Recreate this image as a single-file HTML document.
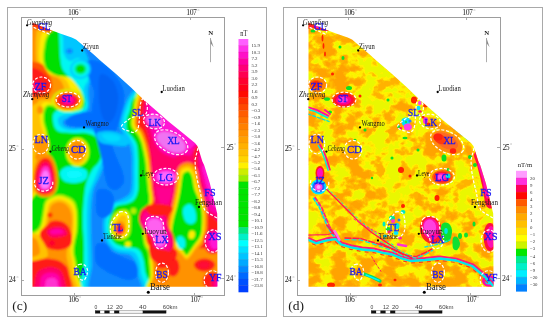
<!DOCTYPE html>
<html><head><meta charset="utf-8"><title>Magnetic anomaly maps</title>
<style>
html,body{margin:0;padding:0;background:#fff;}
body{width:550px;height:323px;overflow:hidden;}
svg{display:block;}
text{font-family:"Liberation Serif","DejaVu Serif",serif;}
.s{font-family:"Liberation Sans","DejaVu Sans",sans-serif;}
</style></head><body>
<svg width="550" height="323" viewBox="0 0 550 323">
<defs>
<clipPath id="mc"><path d="M32.5,22.8 53.3,31 60.8,33.7 71.7,37.5 76,39.6 82.5,45 93.4,54.3 100,60.2 115.5,73.6 131,87.5 145,101 154.3,108.9 168.2,121.3 183.7,133.7 195,143 197.4,145.9 198.8,150 202.3,161.2 204.3,165.5 209.9,183.6 214.5,202.2 217.2,213.4 217.5,286.8 32.5,286.8Z"/></clipPath>
<clipPath id="mc2"><path d="M308.5,22.8 329.3,31 336.8,33.7 347.7,37.5 352,39.6 358.5,45 369.4,54.3 376,60.2 391.5,73.6 407,87.5 421,101 430.3,108.9 444.2,121.3 459.7,133.7 471,143 473.4,145.9 474.8,150 478.3,161.2 480.3,165.5 485.9,183.6 490.5,202.2 493.2,213.4 493.5,286.8 308.5,286.8Z"/></clipPath>
<filter id="bl" x="-5%" y="-5%" width="110%" height="110%"><feGaussianBlur stdDeviation="1.0"/></filter>
<filter id="tx" filterUnits="userSpaceOnUse" x="300" y="15" width="225" height="280" color-interpolation-filters="sRGB">
<feTurbulence type="fractalNoise" baseFrequency="0.075 0.09" numOctaves="3" seed="11" result="n"/>
<feColorMatrix in="n" type="matrix" values="3 0 0 0 -1  3 0 0 0 -1  3 0 0 0 -1  0 0 0 0 1" result="ng"/>
<feGaussianBlur in="SourceGraphic" stdDeviation="4" result="bias"/>
<feComposite in="ng" in2="bias" operator="arithmetic" k1="0" k2="1" k3="1" k4="-0.5" result="sum"/>
<feComponentTransfer in="sum">
<feFuncR type="discrete" tableValues="1 1 1 1 1 1 1 1 0.97 0.92"/>
<feFuncG type="discrete" tableValues="0.64 0.67 0.7 0.73 0.78 0.86 0.92 0.95 0.96 0.97"/>
<feFuncB type="linear" slope="0" intercept="0"/>
<feFuncA type="linear" slope="0" intercept="1"/>
</feComponentTransfer>
<feGaussianBlur stdDeviation="0.45"/>
</filter>
<filter id="bl2" x="-5%" y="-5%" width="110%" height="110%"><feGaussianBlur stdDeviation="0.6"/></filter>
</defs>
<rect width="550" height="323" fill="#fff"/>
<g clip-path="url(#mc)"><g filter="url(#bl)"><rect x="20" y="15" width="210" height="280" fill="#00e000"/><path d="M57,18C55.2,20.5 58.6,28.5 59,33C59.4,37.5 59.3,41.2 59.5,45C59.7,48.8 59.6,52.2 60,56C60.4,59.8 60.8,64.8 62,68C63.2,71.2 65.5,73.2 67,75C68.5,76.8 69.7,77.5 71,79C72.3,80.5 73.7,82.2 75,84C76.3,85.8 77.7,88.2 79,90C80.3,91.8 82,93.2 83,95C84,96.8 84.8,99 85,101C85.2,103 84.8,105.5 84,107C83.2,108.5 82.3,109.3 80,110C77.7,110.7 73.3,111 70,111C66.7,111 62.7,109.7 60,110C57.3,110.3 55.2,111.3 54,113C52.8,114.7 52.8,117.5 53,120C53.2,122.5 53.8,126 55,128C56.2,130 57.2,131.2 60,132C62.8,132.8 67.7,132.8 72,133C76.3,133.2 82,132.3 86,133C90,133.7 93.5,135.2 96,137C98.5,138.8 100,141.5 101,144C102,146.5 102.3,149 102,152C101.7,155 100.7,159 99,162C97.3,165 94.2,166.3 92,170C89.8,173.7 87.3,179.3 86,184C84.7,188.7 84.5,193.3 84,198C83.5,202.7 83.2,207 83,212C82.8,217 82.8,222.5 83,228C83.2,233.5 83.8,238.8 84,245C84.2,251.2 83.8,256.7 84,265C84.2,273.3 74.7,290 85,295C95.3,300 136,299.2 146,295C156,290.8 145.5,276.2 145,270C144.5,263.8 144.2,261.5 143,258C141.8,254.5 141,250.8 138,249C135,247.2 128.7,247.8 125,247C121.3,246.2 118.5,245.8 116,244C113.5,242.2 111.2,239.3 110,236C108.8,232.7 108.7,227.8 109,224C109.3,220.2 110.7,216 112,213C113.3,210 114.7,207.5 117,206C119.3,204.5 123.2,205 126,204C128.8,203 132,202.3 134,200C136,197.7 137.3,194.2 138,190C138.7,185.8 138,180 138,175C138,170 138.2,164.8 138,160C137.8,155.2 137.8,149.7 137,146C136.2,142.3 134.7,140.7 133,138C131.3,135.3 128,133.2 127,130C126,126.8 126.5,122.3 127,119C127.5,115.7 129.2,113 130,110C130.8,107 130.8,103.5 132,101C133.2,98.5 134,97.7 137,95C140,92.3 149.5,90.8 150,85C150.5,79.2 148.3,68.3 140,60C131.7,51.7 111.7,42 100,35C88.3,28 77.2,20.8 70,18C62.8,15.2 58.8,15.5 57,18Z" fill="#00f6f2"/><path d="M62,25C57.5,26.3 62.8,33.8 63,38C63.2,42.2 63,46.7 63.5,50C64,53.3 64.8,56.2 66,58C67.2,59.8 69,61 71,61C73,61 75.7,57.8 78,58C80.3,58.2 83.2,60 85,62C86.8,64 88.5,67 89,70C89.5,73 88.8,77 88,80C87.2,83 84.5,85.3 84,88C83.5,90.7 84.5,93.5 85,96C85.5,98.5 86.8,100.8 87,103C87.2,105.2 87.2,107.3 86,109C84.8,110.7 82,112.2 80,113C78,113.8 76.8,113.7 74,114C71.2,114.3 65.7,114.2 63,115C60.3,115.8 58.5,117.2 58,119C57.5,120.8 58.3,124.2 60,126C61.7,127.8 64.3,129.3 68,130C71.7,130.7 77.7,129.7 82,130C86.3,130.3 91,130.7 94,132C97,133.3 98.5,135.5 100,138C101.5,140.5 102.5,143.7 103,147C103.5,150.3 103.7,154.5 103,158C102.3,161.5 100.5,164.3 99,168C97.5,171.7 95.5,176.3 94,180C92.5,183.7 91,187 90,190C89,193 88.5,194.3 88,198C87.5,201.7 87.2,207 87,212C86.8,217 86.9,222.5 87,228C87.1,233.5 87.3,238.8 87.5,245C87.7,251.2 87.8,256.7 88,265C88.2,273.3 80,290 89,295C98,300 133.3,298.8 142,295C150.7,291.2 141.5,277.8 141,272C140.5,266.2 140.2,263.3 139,260C137.8,256.7 136.8,253.7 134,252C131.2,250.3 125.3,250.8 122,250C118.7,249.2 116.3,249 114,247C111.7,245 109.3,241.8 108,238C106.7,234.2 105.8,228.3 106,224C106.2,219.7 107.5,215.3 109,212C110.5,208.7 112.3,205.7 115,204C117.7,202.3 122,203.3 125,202C128,200.7 131.3,198.8 133,196C134.7,193.2 134.7,189.3 135,185C135.3,180.7 135,174.5 135,170C135,165.5 135.2,161.8 135,158C134.8,154.2 134.8,150.3 134,147C133.2,143.7 131.7,141.2 130,138C128.3,134.8 125,131.3 124,128C123,124.7 123.5,121.3 124,118C124.5,114.7 126,111 127,108C128,105 128.7,102.5 130,100C131.3,97.5 132.5,96.3 135,93C137.5,89.7 147.5,87.2 145,80C142.5,72.8 129.2,58.3 120,50C110.8,41.7 99.7,34.2 90,30C80.3,25.8 66.5,23.7 62,25Z" fill="#00c6ff"/><path d="M77,25C76,26.7 78,34.3 79,38C80,41.7 81.7,44.2 83,47C84.3,49.8 85.8,52.3 87,55C88.2,57.7 89.2,60.2 90,63C90.8,65.8 91.4,69.2 91.5,72C91.6,74.8 91,77.3 90.5,80C90,82.7 88.8,85.3 88.5,88C88.2,90.7 88.4,93.5 88.5,96C88.6,98.5 89.1,100.7 89,103C88.9,105.3 89.2,108 88,110C86.8,112 84.7,113.7 82,115C79.3,116.3 75,117.2 72,118C69,118.8 65.3,118.8 64,120C62.7,121.2 62.7,123.7 64,125C65.3,126.3 68.5,127.5 72,128C75.5,128.5 81,127.7 85,128C89,128.3 92.8,128.3 96,130C99.2,131.7 102.3,135 104,138C105.7,141 105.7,144.7 106,148C106.3,151.3 106.5,154.7 106,158C105.5,161.3 104.2,164.7 103,168C101.8,171.3 100.5,174.7 99,178C97.5,181.3 95.2,184.7 94,188C92.8,191.3 92.5,194 92,198C91.5,202 91.2,207 91,212C90.8,217 90.9,222.5 91,228C91.1,233.5 91.3,238.8 91.5,245C91.7,251.2 91.9,256.7 92,265C92.1,273.3 84.2,290 92,295C99.8,300 131.3,298.3 139,295C146.7,291.7 138.5,280.3 138,275C137.5,269.7 137.3,266.3 136,263C134.7,259.7 132.8,256.7 130,255C127.2,253.3 122,254 119,253C116,252 114.3,251.3 112,249C109.7,246.7 106.5,243.2 105,239C103.5,234.8 102.8,228.5 103,224C103.2,219.5 104.3,215.5 106,212C107.7,208.5 110.3,205.2 113,203C115.7,200.8 119.2,200.7 122,199C124.8,197.3 128.3,195.8 130,193C131.7,190.2 131.7,186.2 132,182C132.3,177.8 132,172.3 132,168C132,163.7 132.3,159.7 132,156C131.7,152.3 131,149 130,146C129,143 127.7,141 126,138C124.3,135 120.8,131.3 120,128C119.2,124.7 120.3,121.3 121,118C121.7,114.7 123,111 124,108C125,105 125.7,102.7 127,100C128.3,97.3 129.8,95.3 132,92C134.2,88.7 143.7,87.8 140,80C136.3,72.2 119.2,53.7 110,45C100.8,36.3 90.5,31.3 85,28C79.5,24.7 78,23.3 77,25Z" fill="#0886ff"/><path d="M86,62C87.8,59.3 95.2,59.8 100,62C104.8,64.2 111,70 115,75C119,80 122.8,85.8 124,92C125.2,98.2 123.2,106 122,112C120.8,118 118.7,123 117,128C115.3,133 112.2,137.3 112,142C111.8,146.7 114.3,151.3 116,156C117.7,160.7 120.7,165.7 122,170C123.3,174.3 125,178.7 124,182C123,185.3 118.7,189.3 116,190C113.3,190.7 110,189 108,186C106,183 105.2,177 104,172C102.8,167 102.2,161.3 101,156C99.8,150.7 98.5,145.3 97,140C95.5,134.7 92.8,129.3 92,124C91.2,118.7 91.7,113.3 92,108C92.3,102.7 94.5,97 94,92C93.5,87 90.3,83 89,78C87.7,73 84.2,64.7 86,62Z" fill="#066eff"/><path d="M100,75C102.2,71.7 109,76.7 112,80C115,83.3 117.3,89.7 118,95C118.7,100.3 117.3,107.5 116,112C114.7,116.5 112.2,121 110,122C107.8,123 104.8,121.7 103,118C101.2,114.3 99.5,107.2 99,100C98.5,92.8 97.8,78.3 100,75Z" fill="#0562f4"/><path d="M98,190C100,188.3 105.3,188.7 108,190C110.7,191.3 113.3,194.3 114,198C114.7,201.7 113.7,208.7 112,212C110.3,215.3 106.5,217.7 104,218C101.5,218.3 98.3,217 97,214C95.7,211 95.8,204 96,200C96.2,196 96,191.7 98,190Z" fill="#066eff"/><path d="M68,118C69.8,116.2 74.3,114.5 78,113.5C81.7,112.5 87,111.2 90,112C93,112.8 95.5,115.7 96,118C96.5,120.3 95.7,124.5 93,126C90.3,127.5 84.3,127.2 80,127C75.7,126.8 69,126 67,124.5C65,123 66.2,119.8 68,118Z" fill="#066eff"/><path d="M96,245C97.7,242 103.3,242.8 106,244C108.7,245.2 108.8,249.7 112,252C115.2,254.3 121,256 125,258C129,260 134,261 136,264C138,267 138.3,273.3 137,276C135.7,278.7 131.5,280 128,280C124.5,280 120,277.7 116,276C112,274.3 107.3,272.3 104,270C100.7,267.7 97.3,266.2 96,262C94.7,257.8 94.3,248 96,245Z" fill="#066eff"/><ellipse cx="69.5" cy="51" rx="6.5" ry="5.5" fill="#00c6ff"/><ellipse cx="69.5" cy="51" rx="3.2" ry="2.6" fill="#0886ff"/><ellipse cx="80.5" cy="69" rx="10.5" ry="10" fill="#00c6ff"/><ellipse cx="80.5" cy="69" rx="8.5" ry="8" fill="#00f6f2"/><ellipse cx="80.5" cy="69" rx="6.2" ry="5.7" fill="#00eea8"/><ellipse cx="80.5" cy="69" rx="4.8" ry="4.3" fill="#00e000"/><path d="M97,133C98.7,131.2 105.8,130.8 110,131C114.2,131.2 118.8,132.5 122,134C125.2,135.5 128.3,138 129,140C129.7,142 128.8,145.2 126,146C123.2,146.8 116.3,145.7 112,145C107.7,144.3 102.5,144 100,142C97.5,140 95.3,134.8 97,133Z" fill="#00c6ff"/><path d="M102,135C102.7,133.8 109,133.7 112,134C115,134.3 119,135.8 120,137C121,138.2 120,140.3 118,141C116,141.7 110.7,142 108,141C105.3,140 101.3,136.2 102,135Z" fill="#00dcff"/><path d="M60,173C60.3,170.7 63,168 66,167C69,166 74.5,166.3 78,167C81.5,167.7 85.7,169 87,171C88.3,173 87.8,177 86,179C84.2,181 79.7,182.7 76,183C72.3,183.3 66.7,182.7 64,181C61.3,179.3 59.7,175.3 60,173Z" fill="#00f6f2"/><path d="M68,172C69.7,171 75.7,170.5 78,171C80.3,171.5 82.5,173.8 82,175C81.5,176.2 77.3,177.7 75,178C72.7,178.3 69.2,178 68,177C66.8,176 66.3,173 68,172Z" fill="#10f8ff"/><path d="M20,15C25.2,-13.8 46,15.3 51,18C56,20.7 50.7,27.7 50,31C49.3,34.3 47.8,35.8 47,38C46.2,40.2 46,41 45.5,44C45,47 44.1,52.7 44,56C43.9,59.3 44.5,61.8 45,64C45.5,66.2 46,67.5 47,69C48,70.5 49.2,71.7 51,73C52.8,74.3 55.5,76.2 58,77C60.5,77.8 63.7,77.5 66,78C68.3,78.5 70.2,78.8 72,80C73.8,81.2 75.5,83.2 77,85C78.5,86.8 80,89 81,91C82,93 82.7,94.8 83,97C83.3,99.2 83.3,101.9 83,104C82.7,106.1 82.5,108.2 81,109.5C79.5,110.8 76.5,111.2 74,111.5C71.5,111.8 68.7,111.8 66,111.5C63.3,111.2 60.2,110.3 58,109.5C55.8,108.7 54.7,107.1 53,106.5C51.3,105.9 49.3,105.4 48,106C46.7,106.6 45.7,108 45,110C44.3,112 44,115.5 44,118C44,120.5 44.5,122.7 45,125C45.5,127.3 46.3,128.7 47,132C47.7,135.3 48.7,140.3 49,145C49.3,149.7 48.7,155.5 49,160C49.3,164.5 50.3,168.3 51,172C51.7,175.7 53,179.2 53,182C53,184.8 53.2,187.5 51,189C48.8,190.5 45.2,190.7 40,191C34.8,191.3 23.3,220.3 20,191C16.7,161.7 14.8,43.8 20,15Z" fill="#b4f000"/><path d="M20,15C24.9,-13.7 44.8,15.3 49.5,18C54.2,20.7 49.2,27.7 48.5,31C47.8,34.3 46.2,35.8 45.5,38C44.8,40.2 44.5,41 44,44C43.5,47 42.6,52.7 42.5,56C42.4,59.3 43,61.8 43.5,64C44,66.2 44.4,67.7 45.5,69C46.6,70.3 48.1,70.9 50,72C51.9,73.1 54.5,74.8 57,75.5C59.5,76.2 62.7,76 65,76.5C67.3,77 69.2,77.2 71,78.5C72.8,79.8 74.1,82 75.5,84C76.9,86 78.5,88.3 79.5,90.5C80.5,92.7 81.2,94.8 81.5,97C81.8,99.2 81.8,101.7 81.5,103.5C81.2,105.3 80.8,106.9 79.5,108C78.2,109.1 75.8,109.7 73.5,110C71.2,110.3 68.5,110.3 66,110C63.5,109.7 60.7,108.8 58.5,108C56.3,107.2 54.8,105.6 53,105C51.2,104.4 49.1,103.8 47.5,104.5C45.9,105.2 44.3,106.8 43.5,109C42.7,111.2 42.5,115.3 42.5,118C42.5,120.7 43,122.7 43.5,125C44,127.3 44.8,128.7 45.5,132C46.2,135.3 47.2,140.3 47.5,145C47.8,149.7 47.2,155.5 47.5,160C47.8,164.5 48.8,168.3 49.5,172C50.2,175.7 51.5,179.3 51.5,182C51.5,184.7 51.4,186.7 49.5,188C47.6,189.3 44.9,189.7 40,190C35.1,190.3 23.3,219.2 20,190C16.7,160.8 15.1,43.7 20,15Z" fill="#ffec00"/><path d="M20,15C24.2,-13.3 41.2,16.5 45,19C48.8,21.5 43.8,26.8 43,30C42.2,33.2 41.1,35.3 40.5,38C39.9,40.7 39.8,43 39.5,46C39.2,49 38.9,53.2 39,56C39.1,58.8 39.5,61 40,63C40.5,65 40.8,66.4 42,68C43.2,69.6 45,71.3 47,72.5C49,73.7 51.8,74.3 54,75C56.2,75.7 58.2,75.8 60,76.5C61.8,77.2 63.7,77.9 65,79C66.3,80.1 67.2,81.5 68,83C68.8,84.5 69.2,86.2 70,88C70.8,89.8 71.4,91.7 73,94C74.6,96.3 78.8,99.8 79.5,102C80.2,104.2 78.6,105.9 77,107C75.4,108.1 72.5,108.4 70,108.5C67.5,108.6 64.7,108.2 62,107.5C59.3,106.8 56.5,104.9 54,104C51.5,103.1 49,102 47,102C45,102 43.2,102.3 42,104C40.8,105.7 40.2,108.5 40,112C39.8,115.5 40.3,121.2 41,125C41.7,128.8 43.3,130.8 44,135C44.7,139.2 44.7,145.5 45,150C45.3,154.5 45.5,157.8 46,162C46.5,166.2 47.5,171 48,175C48.5,179 50.7,183.7 49,186C47.3,188.3 42.8,188.5 38,189C33.2,189.5 23,218 20,189C17,160 15.8,43.3 20,15Z" fill="#ffc200"/><path d="M20,15C23.3,0.8 37.1,17.8 40,20C42.9,22.2 38.2,25 37.5,28C36.8,31 36.3,34.3 36,38C35.7,41.7 35.8,46.3 35.8,50C35.8,53.7 35.9,57.3 36.3,60C36.7,62.7 37,64.2 38,66C39,67.8 40.2,69.5 42,71C43.8,72.5 46.8,74 49,75C51.2,76 53.2,76.2 55,77C56.8,77.8 58.7,78.7 60,80C61.3,81.3 62.3,83.3 63,85C63.7,86.7 64.5,88.8 64,90C63.5,91.2 61.5,91 60,92C58.5,93 56.7,94.8 55,96C53.3,97.2 52.5,98.3 50,99C47.5,99.7 42.5,99.2 40,100C37.5,100.8 38.3,103.2 35,104C31.7,104.8 22.5,119.8 20,105C17.5,90.2 16.7,29.2 20,15Z" fill="#ff9200"/><ellipse cx="40" cy="110" rx="3" ry="4" fill="#ff9200"/><path d="M20,12C25.8,10.3 49.7,16.8 55,20C60.3,23.2 53.2,28.9 52,31C50.8,33.1 50,32.6 48,32.5C46,32.4 42.5,31.2 40,30.5C37.5,29.8 36.3,28.6 33,28.5C29.7,28.4 22.2,32.8 20,30C17.8,27.2 14.2,13.7 20,12Z" fill="#ff5200"/><path d="M20,10C25.8,8.7 49.7,15 55,18C60.3,21 53.5,26.1 52,28C50.5,29.9 48,29.6 46,29.5C44,29.4 42.2,28.2 40,27.5C37.8,26.8 36.3,25.8 33,25.5C29.7,25.2 22.2,28.6 20,26C17.8,23.4 14.2,11.3 20,10Z" fill="#ff1a14"/><path d="M20,62C22.3,56.2 30.3,61.7 34,62C37.7,62.3 40,62.7 42,64C44,65.3 44.5,67.7 46,70C47.5,72.3 50,75 51,78C52,81 52.5,85.2 52,88C51.5,90.8 50,93.5 48,95C46,96.5 44.7,96.7 40,97C35.3,97.3 23.3,102.8 20,97C16.7,91.2 17.7,67.8 20,62Z" fill="#ff5200"/><path d="M20,68C22.3,63.5 30.3,67.3 34,68C37.7,68.7 39.7,70.3 42,72C44.3,73.7 46.6,75.7 48,78C49.4,80.3 50.7,83.5 50.5,86C50.3,88.5 48.8,91.5 47,93C45.2,94.5 44.5,94.7 40,95C35.5,95.3 23.3,99.5 20,95C16.7,90.5 17.7,72.5 20,68Z" fill="#ff1a14"/><ellipse cx="37" cy="86" rx="6" ry="6" fill="#ff0c40"/><ellipse cx="36" cy="86.5" rx="4" ry="4.5" fill="#ff0868"/><ellipse cx="41" cy="145" rx="8.5" ry="11" fill="#ffa800"/><ellipse cx="41.5" cy="146" rx="6.5" ry="8.5" fill="#ff9800"/><ellipse cx="40" cy="157" rx="5" ry="4" fill="#ff8c00"/><path d="M40,155C42.2,153.2 45.7,153 48,154C50.3,155 52.4,157.5 54,161C55.6,164.5 57,170.5 57.5,175C58,179.5 57.9,184.5 57,188C56.1,191.5 54.5,194.5 52,196C49.5,197.5 44.8,197.7 42,197C39.2,196.3 36.5,194.8 35,192C33.5,189.2 33,184.5 33,180C33,175.5 33.8,169.2 35,165C36.2,160.8 37.8,156.8 40,155Z" fill="#ff9200"/><path d="M42,159C43.8,157.8 46.2,157.5 48,158.5C49.8,159.5 51.3,161.9 52.5,165C53.7,168.1 54.7,173.2 55,177C55.3,180.8 55.4,185.2 54.5,188C53.6,190.8 51.8,192.5 49.5,193.5C47.2,194.5 43.2,194.8 41,194C38.8,193.2 37.1,191.8 36,189C34.9,186.2 34.3,180.8 34.5,177C34.7,173.2 35.8,169 37,166C38.2,163 40.2,160.2 42,159Z" fill="#ff1a14"/><path d="M43,163C44.5,162 46.6,161.8 48,163C49.4,164.2 50.7,167.2 51.5,170C52.3,172.8 52.9,177 53,180C53.1,183 52.9,186 52,188C51.1,190 49.3,191.2 47.5,191.8C45.7,192.4 42.7,192.6 41,191.8C39.3,191 38.2,189.3 37.5,187C36.8,184.7 36.8,181 37,178C37.2,175 38,171.5 39,169C40,166.5 41.5,164 43,163Z" fill="#ff0068"/><path d="M43.5,167C44.7,166.3 46.8,165.7 48,167C49.2,168.3 50,172.2 50.5,175C51,177.8 51.3,181.6 51,184C50.7,186.4 50,188.5 48.5,189.5C47,190.5 43.5,190.6 42,190C40.5,189.4 39.9,188 39.5,186C39.1,184 39.2,180.5 39.5,178C39.8,175.5 40.3,172.8 41,171C41.7,169.2 42.3,167.7 43.5,167Z" fill="#ff30d0"/><path d="M44,171C45.2,170 47.1,170.5 48,172C48.9,173.5 49.4,177.5 49.5,180C49.6,182.5 49.4,185.6 48.5,187C47.6,188.4 45.2,188.7 44,188.5C42.8,188.3 41.5,187.8 41,186C40.5,184.2 40.5,180.5 41,178C41.5,175.5 42.8,172 44,171Z" fill="#ff78ff"/><ellipse cx="67.6" cy="100.6" rx="16" ry="11.5" fill="#b4f000"/><ellipse cx="67.6" cy="100.6" rx="15" ry="10.5" fill="#ffec00"/><ellipse cx="67.6" cy="100.6" rx="13.8" ry="9.6" fill="#ffc200"/><ellipse cx="67.6" cy="100.6" rx="12.6" ry="8.8" fill="#ff9200"/><ellipse cx="67.6" cy="100.6" rx="11.5" ry="7.8" fill="#ff5200"/><ellipse cx="67.6" cy="100.6" rx="10.3" ry="7" fill="#ff1a14"/><ellipse cx="68" cy="100" rx="7.5" ry="5.5" fill="#ff0068"/><ellipse cx="68" cy="99.8" rx="5.5" ry="4" fill="#ff00a8"/><ellipse cx="77.5" cy="152" rx="12" ry="14.5" fill="#b4f000"/><ellipse cx="77.5" cy="152" rx="10.8" ry="13.5" fill="#ffec00"/><ellipse cx="77.5" cy="152" rx="9.5" ry="12.2" fill="#ffc200"/><ellipse cx="77" cy="151" rx="8" ry="10.5" fill="#ff9200"/><path d="M20,234C22.2,223.5 29.7,233.3 33,232C36.3,230.7 38.3,229.3 40,226C41.7,222.7 42.2,216 43,212C43.8,208 43.8,204.5 45,202C46.2,199.5 47.7,198.2 50,197C52.3,195.8 56.2,194.6 59,194.5C61.8,194.4 64.5,195.4 67,196.5C69.5,197.6 72.3,198.8 74,201C75.7,203.2 76.4,206.5 77,210C77.6,213.5 77.5,218.3 77.5,222C77.5,225.7 77.4,228.7 77,232C76.6,235.3 75.5,238.7 75,242C74.5,245.3 73.8,248.7 74,252C74.2,255.3 75.5,258.7 76,262C76.5,265.3 76.7,266.5 77,272C77.3,277.5 87.5,291.2 78,295C68.5,298.8 29.7,305.2 20,295C10.3,284.8 17.8,244.5 20,234Z" fill="#b4f000"/><path d="M20,236C22.3,225.8 30.4,235.5 34,234C37.6,232.5 39.8,230.5 41.5,227C43.2,223.5 43.7,217 44.5,213C45.3,209 45.4,205.3 46.5,203C47.6,200.7 48.9,200.1 51,199C53.1,197.9 56.4,196.6 59,196.5C61.6,196.4 64.2,197.5 66.5,198.5C68.8,199.5 71,200.5 72.5,202.5C74,204.5 74.9,207.2 75.5,210.5C76.1,213.8 76,218.4 76,222C76,225.6 75.9,228.7 75.5,232C75.1,235.3 74,238.7 73.5,242C73,245.3 72.3,248.7 72.5,252C72.7,255.3 74,258.7 74.5,262C75,265.3 75.2,266.5 75.5,272C75.8,277.5 85.8,291.2 76.5,295C67.2,298.8 29.4,304.8 20,295C10.6,285.2 17.7,246.2 20,236Z" fill="#ffec00"/><path d="M20,238C22.7,228.2 32.1,237.7 36,236C39.9,234.3 41.8,231.7 43.5,228C45.2,224.3 45.7,217.8 46.5,214C47.3,210.2 47.5,207.2 48.5,205C49.5,202.8 50.8,202 52.5,201C54.2,200 56.8,199 59,199C61.2,199 63.6,200 65.5,201C67.4,202 69.2,203.2 70.5,205C71.8,206.8 72.9,209.2 73.5,212C74.1,214.8 74,218.7 74,222C74,225.3 73.9,228.7 73.5,232C73.1,235.3 72,238.7 71.5,242C71,245.3 70.3,248.7 70.5,252C70.7,255.3 72,258.7 72.5,262C73,265.3 73.2,266.5 73.5,272C73.8,277.5 83.4,291.2 74.5,295C65.6,298.8 29.1,304.5 20,295C10.9,285.5 17.3,247.8 20,238Z" fill="#ffc200"/><path d="M20,240C23,230.5 33.7,239.8 38,238C42.3,236.2 44.2,232.7 46,229C47.8,225.3 47.8,219.7 48.5,216C49.2,212.3 49.6,209.1 50.5,207C51.4,204.9 52.6,204.3 54,203.5C55.4,202.7 57.2,202 59,202C60.8,202 62.8,202.5 64.5,203.5C66.2,204.5 67.8,206.1 69,208C70.2,209.9 71,212.3 71.5,215C72,217.7 72.1,220.8 72,224C71.9,227.2 71.6,230.7 71,234C70.4,237.3 69.2,240.5 68.5,244C67.8,247.5 66.5,251.5 66.5,255C66.5,258.5 67.8,261.7 68.5,265C69.2,268.3 70,270 70.5,275C71,280 79.9,291.7 71.5,295C63.1,298.3 28.6,304.2 20,295C11.4,285.8 17,249.5 20,240Z" fill="#ff9200"/><path d="M40,233C40.5,230 44,228 46,226C48,224 49.7,221.8 52,221C54.3,220.2 57.3,220.2 60,221C62.7,221.8 66,223.5 68,226C70,228.5 71.7,232.7 72,236C72.3,239.3 72,243.7 70,246C68,248.3 63.3,249.5 60,250C56.7,250.5 52.8,250 50,249C47.2,248 44.7,246.7 43,244C41.3,241.3 39.5,236 40,233Z" fill="#ff1a14"/><path d="M47,231C47.7,229.3 52.3,227.5 55,227C57.7,226.5 61,226.8 63,228C65,229.2 67.5,232.5 67,234C66.5,235.5 62.7,236.5 60,237C57.3,237.5 53.2,238 51,237C48.8,236 46.3,232.7 47,231Z" fill="#ff0068"/><path d="M50,231C50.7,230.2 54,229.2 56,229C58,228.8 60.8,229.3 62,230C63.2,230.7 63.8,232.3 63,233C62.2,233.7 58.8,233.8 57,234C55.2,234.2 53.2,234.5 52,234C50.8,233.5 49.3,231.8 50,231Z" fill="#ff00a8"/><ellipse cx="52" cy="243" rx="3" ry="2.5" fill="#ff0030"/><ellipse cx="50" cy="215" rx="2.5" ry="2.5" fill="#ff3000"/><path d="M20,262C22.2,256.3 29.3,261.6 33,261C36.7,260.4 38.3,258.8 42,258.5C45.7,258.2 51.3,258.6 55,259.5C58.7,260.4 61.8,261.9 64,264C66.2,266.1 67.8,266.8 68.5,272C69.2,277.2 76.1,291.2 68,295C59.9,298.8 28,300.5 20,295C12,289.5 17.8,267.7 20,262Z" fill="#ff1a14"/><path d="M38,272C40.2,269.6 44.7,268 48,267.5C51.3,267 55.4,267.4 58,269C60.6,270.6 62.5,272.7 63.5,277C64.5,281.3 68.6,292 64,295C59.4,298 40.8,297.2 36,295C31.2,292.8 34.7,285.8 35,282C35.3,278.2 35.8,274.4 38,272Z" fill="#ff0068"/><path d="M42,276C43.7,273.9 47.3,272.7 50,272.5C52.7,272.3 56.2,273.2 58,275C59.8,276.8 60.2,279.7 60.5,283C60.8,286.3 63.2,293 60,295C56.8,297 44.3,296.7 41,295C37.7,293.3 39.8,288.2 40,285C40.2,281.8 40.3,278.1 42,276Z" fill="#ff00a8"/><path d="M46,281C47,278.2 50.2,278 52,278C53.8,278 56.2,278.2 57,281C57.8,283.8 58.8,292.7 57,295C55.2,297.3 47.8,297.3 46,295C44.2,292.7 45,283.8 46,281Z" fill="#ff30d0"/><path d="M20,236C22.7,231.7 32.3,233.3 36,234C39.7,234.7 40.2,237.3 42,240C43.8,242.7 46.5,247 47,250C47.5,253 49.5,256.3 45,258C40.5,259.7 24.2,263.7 20,260C15.8,256.3 17.3,240.3 20,236Z" fill="#ffc200"/><path d="M20,240C22.3,236.8 30.8,237 34,238C37.2,239 38.3,243.2 39,246C39.7,248.8 41.2,253.2 38,255C34.8,256.8 23,259.5 20,257C17,254.5 17.7,243.2 20,240Z" fill="#ff9200"/><path d="M140,85C137.7,87.8 137,92 136,95C135,98 134.5,100.2 134,103C133.5,105.8 133.5,109 133,112C132.5,115 131.2,118.3 131,121C130.8,123.7 131,125.8 132,128C133,130.2 135.5,131.7 137,134C138.5,136.3 140,139.3 141,142C142,144.7 142.3,147 143,150C143.7,153 144.5,156.7 145,160C145.5,163.3 145.7,166.7 146,170C146.3,173.3 146.7,176.7 147,180C147.3,183.3 147.7,187 148,190C148.3,193 149,195.5 149,198C149,200.5 148.8,202.7 148,205C147.2,207.3 144.8,209.2 144,212C143.2,214.8 143.2,218.2 143,222C142.8,225.8 142.8,231.2 143,235C143.2,238.8 143.7,242.2 144.5,245C145.3,247.8 147.2,249.2 148,252C148.8,254.8 148.7,258.2 149,262C149.3,265.8 149.7,269.5 150,275C150.3,280.5 138.5,291.7 151,295C163.5,298.3 212.7,330.8 225,295C237.3,259.2 237.5,116.2 225,80C212.5,43.8 164.2,77.2 150,78C135.8,78.8 142.3,82.2 140,85Z" fill="#b4f000"/><path d="M141.5,85C139.4,87.8 138.5,92 137.5,95C136.5,98 136,100.2 135.5,103C135,105.8 135,109 134.5,112C134,115 132.7,118.3 132.5,121C132.3,123.7 132.5,126 133.5,128C134.5,130 137,130.7 138.5,133C140,135.3 141.5,139.2 142.5,142C143.5,144.8 143.8,147 144.5,150C145.2,153 146,156.7 146.5,160C147,163.3 147.2,166.7 147.5,170C147.8,173.3 148.2,176.7 148.5,180C148.8,183.3 149.2,187 149.5,190C149.8,193 150.5,195.5 150.5,198C150.5,200.5 150.3,202.7 149.5,205C148.7,207.3 146.3,209.2 145.5,212C144.7,214.8 144.7,218.2 144.5,222C144.3,225.8 144.2,231.3 144.5,235C144.8,238.7 145.2,241.3 146,244C146.8,246.7 148.8,248 149.5,251C150.2,254 150.2,258 150.5,262C150.8,266 151.2,269.5 151.5,275C151.8,280.5 140.2,291.7 152.5,295C164.8,298.3 212.9,330.8 225,295C237.1,259.2 237.5,116.2 225,80C212.5,43.8 163.9,77.2 150,78C136.1,78.8 143.6,82.2 141.5,85Z" fill="#ffec00"/><path d="M143,86C141.2,89 140.5,93 139.5,96C138.5,99 137.6,101.3 137,104C136.4,106.7 136.4,109.2 136,112C135.6,114.8 134.6,118.5 134.5,121C134.4,123.5 134.6,125.2 135.5,127C136.4,128.8 138.6,129.5 140,132C141.4,134.5 143,139 144,142C145,145 145.3,147 146,150C146.7,153 147.5,156.7 148,160C148.5,163.3 148.7,166.7 149,170C149.3,173.3 149.7,176.7 150,180C150.3,183.3 150.7,187 151,190C151.3,193 152,195.3 152,198C152,200.7 151.9,203.5 151,206C150.1,208.5 147.4,210.3 146.5,213C145.6,215.7 145.7,218.3 145.5,222C145.3,225.7 145.2,231.5 145.5,235C145.8,238.5 146.5,240.5 147.5,243C148.5,245.5 150.7,246.8 151.5,250C152.3,253.2 152.2,257.8 152.5,262C152.8,266.2 153.2,269.5 153.5,275C153.8,280.5 142.6,291.7 154.5,295C166.4,298.3 213.2,330.8 225,295C236.8,259.2 237.5,116.2 225,80C212.5,43.8 163.7,77 150,78C136.3,79 144.8,83 143,86Z" fill="#ff9200"/><path d="M146,88C144.7,91.3 143.1,95 142,98C140.9,101 140.1,103.3 139.5,106C138.9,108.7 138.9,111.5 138.5,114C138.1,116.5 137.1,119 137,121C136.9,123 137.1,124.3 138,126C138.9,127.7 141.1,128.3 142.5,131C143.9,133.7 145.5,138.8 146.5,142C147.5,145.2 147.9,147 148.5,150C149.1,153 149.6,156.7 150,160C150.4,163.3 150.7,166.7 151,170C151.3,173.3 151.7,176.3 152,180C152.3,183.7 152.7,188.7 153,192C153.3,195.3 154.3,197.5 154,200C153.7,202.5 152.2,204.7 151,207C149.8,209.3 147.3,211 146.5,214C145.7,217 146.1,221 146,225C145.9,229 145.5,234.5 146,238C146.5,241.5 147.3,243.7 149,246C150.7,248.3 153.5,250.3 156,252C158.5,253.7 161.3,256 164,256C166.7,256 169.3,253.7 172,252C174.7,250.3 176.2,246.7 180,246C183.8,245.3 190.8,247.7 195,248C199.2,248.3 202.2,248.7 205,248C207.8,247.3 208.7,245.3 212,244C215.3,242.7 222.8,267.3 225,240C227.2,212.7 237.5,107 225,80C212.5,53 163.2,76.7 150,78C136.8,79.3 147.3,84.7 146,88Z" fill="#ff1a14"/><path d="M149,90C148.2,93.7 146,97 145,100C144,103 143.3,105 143,108C142.7,111 142.5,114.7 143,118C143.5,121.3 145,124.7 146,128C147,131.3 148,134.3 149,138C150,141.7 151.2,146.3 152,150C152.8,153.7 153.3,156.7 154,160C154.7,163.3 155.3,166.3 156,170C156.7,173.7 156.7,178.7 158,182C159.3,185.3 161.7,189 164,190C166.3,191 169.8,189.7 172,188C174.2,186.3 175.7,183 177,180C178.3,177 178.5,172.3 180,170C181.5,167.7 183.8,167.2 186,166C188.2,164.8 191.2,164.3 193,163C194.8,161.7 195.7,160.2 197,158C198.3,155.8 196.3,152.7 201,150C205.7,147.3 221,153.7 225,142C229,130.3 237.5,90.7 225,80C212.5,69.3 162.7,76.3 150,78C137.3,79.7 149.8,86.3 149,90Z" fill="#ff0068"/><path d="M151,93C150.2,96.7 148.3,99.2 147.5,102C146.7,104.8 146.1,107 146,110C145.9,113 146.3,117 147,120C147.7,123 149,125 150,128C151,131 151.8,134.8 153,138C154.2,141.2 155.3,144.5 157,147C158.7,149.5 160.5,151.3 163,153C165.5,154.7 168.8,156.2 172,157C175.2,157.8 178.8,158.3 182,158C185.2,157.7 188.5,156.7 191,155C193.5,153.3 191.3,150.8 197,148C202.7,145.2 220.3,149.3 225,138C229.7,126.7 237.2,89.7 225,80C212.8,70.3 164.3,77.8 152,80C139.7,82.2 151.8,89.3 151,93Z" fill="#ff00a8"/><path d="M154,97C153.2,100.8 150.7,102.2 150,105C149.3,107.8 149.5,111.2 150,114C150.5,116.8 151.8,119.2 153,122C154.2,124.8 155.5,128 157,131C158.5,134 159.8,137.2 162,140C164.2,142.8 167,146.2 170,148C173,149.8 176.7,150.8 180,151C183.3,151.2 187.3,150.2 190,149C192.7,147.8 190.2,147.2 196,144C201.8,140.8 220.2,140.7 225,130C229.8,119.3 236.7,88 225,80C213.3,72 166.8,79.2 155,82C143.2,84.8 154.8,93.2 154,97Z" fill="#ff18d4"/><ellipse cx="171.2" cy="142.2" rx="18.5" ry="11" fill="#ff18d4" transform="rotate(28 171.2 142.2)"/><ellipse cx="171.2" cy="142.2" rx="15.5" ry="8.5" fill="#f072f2" transform="rotate(28 171.2 142.2)"/><ellipse cx="154.5" cy="121" rx="9.5" ry="6.3" fill="#ff40e0" transform="rotate(15 154.5 121)"/><ellipse cx="154.5" cy="121" rx="7" ry="4.5" fill="#f072f2" transform="rotate(15 154.5 121)"/><path d="M150,140C151,139.2 154.3,142.5 156,145C157.7,147.5 159.7,151.7 160,155C160.3,158.3 159.2,163.8 158,165C156.8,166.2 154.3,164.5 153,162C151.7,159.5 150.5,153.7 150,150C149.5,146.3 149,140.8 150,140Z" fill="#ff0068"/><path d="M176,156C177,154.5 183,154.7 186,155C189,155.3 193.3,156.5 194,158C194.7,159.5 192.3,163 190,164C187.7,165 182.3,165.3 180,164C177.7,162.7 175,157.5 176,156Z" fill="#ff0068"/><path d="M197,146C191.8,149.3 194.5,155.7 194,160C193.5,164.3 193.5,167.7 194,172C194.5,176.3 196,181.3 197,186C198,190.7 199,195.7 200,200C201,204.3 201.3,208.5 203,212C204.7,215.5 206.3,218.8 210,221C213.7,223.2 222.5,238.5 225,225C227.5,211.5 229.7,153.2 225,140C220.3,126.8 202.2,142.7 197,146Z" fill="#ff1a14"/><path d="M199,150C194.3,152.5 197.3,156.3 197,160C196.7,163.7 196.5,167.8 197,172C197.5,176.2 199,180.7 200,185C201,189.3 202,193.8 203,198C204,202.2 204.5,206.8 206,210C207.5,213.2 208.8,215.7 212,217C215.2,218.3 222.8,230 225,218C227.2,206 229.3,156.3 225,145C220.7,133.7 203.7,147.5 199,150Z" fill="#ff0068"/><path d="M201,155C196.8,157.5 200,161.7 200,165C200,168.3 200.3,171.5 201,175C201.7,178.5 203.2,182.2 204,186C204.8,189.8 205.3,194.3 206,198C206.7,201.7 206.7,205.5 208,208C209.3,210.5 211.2,212.3 214,213C216.8,213.7 223.2,222.5 225,212C226.8,201.5 229,159.5 225,150C221,140.5 205.2,152.5 201,155Z" fill="#ff00a8"/><path d="M204,165C200.7,168 204.3,173.8 205,178C205.7,182.2 207.2,186.3 208,190C208.8,193.7 209.2,197.3 210,200C210.8,202.7 210.5,205.2 213,206C215.5,206.8 223,212.7 225,205C227,197.3 228.5,166.7 225,160C221.5,153.3 207.3,162 204,165Z" fill="#ff18d4"/><path d="M152,158C154.3,154.7 162,159.2 166,160C170,160.8 174,160.5 176,163C178,165.5 178,170.2 178,175C178,179.8 177,186.8 176,192C175,197.2 173.8,202.7 172,206C170.2,209.3 167.3,211.3 165,212C162.7,212.7 159.8,212.3 158,210C156.2,207.7 155,203 154,198C153,193 152.3,186.7 152,180C151.7,173.3 149.7,161.3 152,158Z" fill="#ff0068"/><path d="M156,175C157.5,172 163.2,175.2 166,176C168.8,176.8 172,176.8 173,180C174,183.2 173,190.8 172,195C171,199.2 168.8,203.5 167,205C165.2,206.5 162.7,205.8 161,204C159.3,202.2 157.8,198.8 157,194C156.2,189.2 154.5,178 156,175Z" fill="#ff0090"/><ellipse cx="165.8" cy="177" rx="15" ry="11" fill="#ff0068"/><ellipse cx="165.8" cy="177" rx="13" ry="9" fill="#ff00a8"/><ellipse cx="165.8" cy="177" rx="11" ry="7.5" fill="#ff18d4"/><ellipse cx="165.8" cy="177" rx="8.5" ry="5.5" fill="#ff66ff"/><path d="M178,168C179.3,165.5 181.8,163.8 184,163C186.2,162.2 188.8,161.8 191,163C193.2,164.2 195.5,166.3 197,170C198.5,173.7 198.8,180.3 200,185C201.2,189.7 202.8,193.5 204,198C205.2,202.5 206.5,207 207,212C207.5,217 207.3,223.3 207,228C206.7,232.7 206.5,236.3 205,240C203.5,243.7 200.3,246.8 198,250C195.7,253.2 193,257 191,259C189,261 187.8,262.5 186,262C184.2,261.5 182.3,258.3 180,256C177.7,253.7 174.2,251.3 172,248C169.8,244.7 167.7,240.3 167,236C166.3,231.7 167.2,227.2 168,222C168.8,216.8 170.8,210.3 172,205C173.2,199.7 174.3,194.5 175,190C175.7,185.5 175.5,181.7 176,178C176.5,174.3 176.7,170.5 178,168Z" fill="#ff9200"/><path d="M180,169C181.1,167 183.3,166.5 185,166C186.7,165.5 188.3,165 190,166C191.7,167 193.7,168.8 195,172C196.3,175.2 196.8,180.7 198,185C199.2,189.3 200.8,193.5 202,198C203.2,202.5 204.5,207 205,212C205.5,217 205.3,223.5 205,228C204.7,232.5 204.5,235.6 203,239C201.5,242.4 198.2,245.5 196,248.5C193.8,251.5 191.7,255.2 190,257C188.3,258.8 187.5,260 186,259.5C184.5,259 183.1,256.2 181,254C178.9,251.8 175.5,249.7 173.5,246.5C171.5,243.3 169.6,239.1 169,235C168.4,230.9 169.2,227 170,222C170.8,217 172.8,210.3 174,205C175.2,199.7 176.2,194.5 177,190C177.8,185.5 178,181.5 178.5,178C179,174.5 178.9,171 180,169Z" fill="#ffc200"/><path d="M181.5,171C182.5,169.2 184.6,168.8 186,168.5C187.4,168.2 188.8,167.9 190,169C191.2,170.1 192.4,172 193.5,175C194.6,178 195.3,183 196.5,187C197.7,191 199.3,194.8 200.5,199C201.7,203.2 203,207.2 203.5,212C204,216.8 203.8,223.7 203.5,228C203.2,232.3 202.9,234.8 201.5,238C200.1,241.2 197.1,244.1 195,247C192.9,249.9 190.5,253.8 189,255.5C187.5,257.2 187.2,257.5 186,257C184.8,256.5 183.8,254.5 182,252.5C180.2,250.5 176.9,247.9 175,245C173.1,242.1 171.1,238.8 170.5,235C169.9,231.2 170.7,227 171.5,222C172.3,217 174.3,210.3 175.5,205C176.7,199.7 177.8,194.3 178.5,190C179.2,185.7 179.5,182.2 180,179C180.5,175.8 180.5,172.8 181.5,171Z" fill="#ffec00"/><path d="M183,174C183.9,172.4 185.8,171.8 187,171.5C188.2,171.2 189.1,171.4 190,172.5C190.9,173.6 191.8,175.2 192.5,178C193.2,180.8 193.4,185.3 194.5,189C195.6,192.7 197.8,196.2 199,200C200.2,203.8 201.5,207.3 202,212C202.5,216.7 202.3,223.8 202,228C201.7,232.2 201.3,234.1 200,237C198.7,239.9 195.9,242.8 194,245.5C192.1,248.2 189.8,251.9 188.5,253.5C187.2,255.1 186.9,255.4 186,255C185.1,254.6 184.6,252.9 183,251C181.4,249.1 178.3,246.3 176.5,243.5C174.7,240.7 172.6,237.6 172,234C171.4,230.4 172.2,226.7 173,222C173.8,217.3 175.8,211 177,206C178.2,201 179.2,196.2 180,192C180.8,187.8 181,184 181.5,181C182,178 182.1,175.6 183,174Z" fill="#00e000"/><path d="M184,207C185.2,205.3 188.2,203.5 190,204C191.8,204.5 194,207.3 195,210C196,212.7 196.5,217.7 196,220C195.5,222.3 193.7,223.7 192,224C190.3,224.3 187.5,223.7 186,222C184.5,220.3 183.3,216.5 183,214C182.7,211.5 182.8,208.7 184,207Z" fill="#00f6f2"/><path d="M177,238C177.7,236.7 179.7,235.7 181,236C182.3,236.3 184.3,238.2 185,240C185.7,241.8 185.8,245.5 185,247C184.2,248.5 181.3,249.5 180,249C178.7,248.5 177.5,245.8 177,244C176.5,242.2 176.3,239.3 177,238Z" fill="#00f6f2"/><ellipse cx="191.5" cy="235.5" rx="3" ry="3.5" fill="#ffec00"/><ellipse cx="213" cy="241" rx="10" ry="13" fill="#ff1a14"/><ellipse cx="213" cy="241" rx="8.5" ry="11.5" fill="#ff0068"/><ellipse cx="214" cy="241" rx="7" ry="10" fill="#ff00a8"/><ellipse cx="215" cy="241" rx="5" ry="8" fill="#ff18d4"/><ellipse cx="173" cy="267" rx="6.5" ry="9.5" fill="#ff1a14"/><ellipse cx="204.5" cy="265" rx="10.5" ry="6.5" fill="#ff1a14"/><ellipse cx="204" cy="265" rx="6" ry="3.5" fill="#ff0838"/><path d="M150,244C152.3,242 160.7,245 165,246C169.3,247 174.2,248 176,250C177.8,252 177.3,256 176,258C174.7,260 171,261.3 168,262C165,262.7 160.8,262.7 158,262C155.2,261.3 152.3,261 151,258C149.7,255 147.7,246 150,244Z" fill="#ff1a14"/><ellipse cx="212" cy="281" rx="9" ry="9" fill="#ff1a14"/><ellipse cx="216" cy="283" rx="5" ry="6" fill="#ff0068"/><ellipse cx="218" cy="284" rx="3" ry="4" fill="#ff00a8"/><ellipse cx="162" cy="272.7" rx="7.5" ry="10.5" fill="#ff5200"/><ellipse cx="162" cy="274" rx="5.5" ry="8" fill="#ff8000"/><ellipse cx="162" cy="265" rx="5" ry="3.5" fill="#ff1a14"/><path d="M141.3,209.9C143,207.6 146.1,206.3 149.3,205.9C152.5,205.5 157.6,206 160.5,207.5C163.4,209 165.6,211.6 166.9,214.7C168.2,217.8 167.4,222.4 168.5,225.9C169.6,229.4 172.4,232 173.3,235.5C174.2,239 174.9,243.4 174.1,246.7C173.3,250 171,253.8 168.5,255.5C166,257.2 161.3,258 158.9,257.1C156.5,256.2 155.4,253 154.1,249.9C152.8,246.8 152.8,242.2 150.9,238.7C149,235.2 144.9,232.3 142.9,229.1C140.9,225.9 139.2,222.7 138.9,219.5C138.6,216.3 139.6,212.2 141.3,209.9Z" fill="#ff1a14"/><path d="M142.4,211.5C144,209.4 146.9,208.2 149.8,207.8C152.8,207.4 157.5,207.9 160.2,209.3C162.9,210.7 164.9,213.1 166.1,216C167.4,218.8 166.6,223.1 167.6,226.3C168.6,229.5 171.2,232 172,235.2C172.9,238.4 173.5,242.5 172.8,245.6C172,248.6 169.9,252.1 167.6,253.7C165.3,255.3 160.9,256 158.7,255.2C156.5,254.3 155.5,251.4 154.3,248.5C153,245.7 153,241.4 151.3,238.2C149.6,235 145.8,232.2 143.9,229.3C142.1,226.3 140.5,223.4 140.2,220.4C140,217.4 140.8,213.6 142.4,211.5Z" fill="#ff0068"/><path d="M143.7,214.3C145.1,212.4 147.7,211.2 150.4,210.9C153.1,210.6 157.4,211 159.9,212.2C162.3,213.5 164.2,215.7 165.3,218.3C166.4,220.9 165.7,224.8 166.6,227.8C167.5,230.7 169.9,232.9 170.7,235.9C171.5,238.8 172,242.5 171.3,245.3C170.7,248.1 168.8,251.3 166.6,252.8C164.5,254.2 160.6,254.9 158.5,254.1C156.5,253.3 155.6,250.6 154.5,248C153.3,245.4 153.3,241.5 151.8,238.6C150.2,235.6 146.7,233.2 145,230.5C143.3,227.8 141.9,225.1 141.7,222.4C141.4,219.7 142.2,216.2 143.7,214.3Z" fill="#ff0090"/><path d="M147,219C148.1,217.6 150,216.8 152,216.5C154,216.2 157.2,216.6 159,217.5C160.8,218.4 162.2,220.1 163,222C163.8,223.9 163.3,226.8 164,229C164.7,231.2 166.4,232.8 167,235C167.6,237.2 168,239.9 167.5,242C167,244.1 165.6,246.4 164,247.5C162.4,248.6 159.5,249.1 158,248.5C156.5,247.9 155.8,245.9 155,244C154.2,242.1 154.2,239.2 153,237C151.8,234.8 149.2,233 148,231C146.8,229 145.7,227 145.5,225C145.3,223 145.9,220.4 147,219Z" fill="#ff18d4"/><path d="M148.4,221C149.3,219.8 151,219.1 152.7,218.9C154.4,218.7 157.1,219 158.6,219.8C160.2,220.5 161.3,221.9 162,223.6C162.7,225.2 162.3,227.7 162.9,229.5C163.4,231.4 164.9,232.8 165.4,234.6C165.9,236.5 166.3,238.8 165.8,240.6C165.4,242.3 164.2,244.3 162.9,245.2C161.5,246.2 159.1,246.6 157.8,246.1C156.5,245.6 155.9,243.9 155.2,242.3C154.5,240.6 154.5,238.2 153.5,236.3C152.5,234.5 150.3,232.9 149.3,231.2C148.2,229.5 147.3,227.8 147.2,226.1C147,224.4 147.5,222.2 148.4,221Z" fill="#ff60f0"/><path d="M150,248C150.8,245.8 156.7,248.3 160,249C163.3,249.7 168,249.8 170,252C172,254.2 172.8,259.7 172,262C171.2,264.3 167.8,266 165,266C162.2,266 157.5,265 155,262C152.5,259 149.2,250.2 150,248Z" fill="#ff1a14"/><path d="M146,206C147.7,204.2 155.7,203.8 160,204C164.3,204.2 170.3,205.3 172,207C173.7,208.7 172,212.5 170,214C168,215.5 163.3,215.8 160,216C156.7,216.2 152.3,216.7 150,215C147.7,213.3 144.3,207.8 146,206Z" fill="#ff1a14"/><ellipse cx="189" cy="216" rx="4" ry="5.5" fill="#00f6f2"/><ellipse cx="182" cy="243" rx="3" ry="4.5" fill="#00f6f2"/><ellipse cx="192" cy="234" rx="3" ry="3.5" fill="#ffec00"/><path d="M114,214C115.6,211.7 117.8,210.7 120,210C122.2,209.3 125.2,209 127,210C128.8,211 130.3,213.3 131,216C131.7,218.7 131.2,223 131,226C130.8,229 131,231.8 130,234C129,236.2 127.3,238.6 125,239.5C122.7,240.4 118.3,240.6 116,239.5C113.7,238.4 111.9,235.6 111,233C110.1,230.4 110,227.2 110.5,224C111,220.8 112.4,216.3 114,214Z" fill="#b4f000"/><path d="M116,215C117.5,213 119.3,212.5 121,212C122.7,211.5 124.7,211.2 126,212C127.3,212.8 128.5,214.7 129,217C129.5,219.3 129.2,223.3 129,226C128.8,228.7 128.8,231.1 128,233C127.2,234.9 125.8,236.8 124,237.5C122.2,238.2 118.9,238.4 117,237.5C115.1,236.6 113.3,234.2 112.5,232C111.7,229.8 111.4,226.8 112,224C112.6,221.2 114.5,217 116,215Z" fill="#ffec00"/><path d="M117.5,219C118.7,217.4 119.8,216.1 121,215.5C122.2,214.9 124,214.9 125,215.5C126,216.1 126.7,217.2 127,219C127.3,220.8 127.2,223.7 127,226C126.8,228.3 126.8,231.3 126,233C125.2,234.7 123.5,235.5 122,236C120.5,236.5 118.3,236.8 117,236C115.7,235.2 114.5,232.8 114,231C113.5,229.2 113.4,227 114,225C114.6,223 116.3,220.6 117.5,219Z" fill="#ffc200"/><path d="M117,223C118,221.5 119.8,220.8 121,221C122.2,221.2 123.8,222.5 124.5,224C125.2,225.5 125.3,228.2 125,230C124.7,231.8 123.8,233.8 122.5,234.5C121.2,235.2 118.8,235.2 117.5,234.5C116.2,233.8 115.1,231.9 115,230C114.9,228.1 116,224.5 117,223Z" fill="#ff9200"/><path d="M117,226C117.8,225.1 119.4,224.3 120.5,224.5C121.6,224.7 123,225.9 123.5,227C124,228.1 123.9,229.8 123.5,231C123.1,232.2 122,233.5 121,234C120,234.5 118.3,234.7 117.5,234C116.7,233.3 116.1,231.3 116,230C115.9,228.7 116.2,226.9 117,226Z" fill="#ff1a14"/><ellipse cx="119.5" cy="230.5" rx="2.5" ry="2.5" fill="#ff0068"/><ellipse cx="133.5" cy="211" rx="3" ry="3" fill="#b4f000"/><ellipse cx="128" cy="244" rx="3.5" ry="3" fill="#b4f000"/><ellipse cx="128" cy="244" rx="2.5" ry="2" fill="#ffec00"/></g></g><g clip-path="url(#mc2)"><g filter="url(#tx)"><rect x="300" y="15" width="225" height="280" fill="rgb(143,143,143)"/><path d="M314,22C316.8,19.7 324,22.3 335,28C346,33.7 365.8,45.7 380,56C394.2,66.3 405,77.3 420,90C435,102.7 459.7,122 470,132C480.3,142 482.3,146.3 482,150C481.7,153.7 475,157.3 468,154C461,150.7 450.5,139 440,130C429.5,121 416.3,109.3 405,100C393.7,90.7 382.5,82 372,74C361.5,66 351,57.3 342,52C333,46.7 322.7,47 318,42C313.3,37 311.2,24.3 314,22Z" fill="rgb(199,199,199)"/><path d="M308,40C309.7,34.7 316,37 318,40C320,43 320,52.7 320,58C320,63.3 320,69.7 318,72C316,74.3 309.7,77.3 308,72C306.3,66.7 306.3,45.3 308,40Z" fill="rgb(122,122,122)"/><path d="M308,22C311.7,19 325.7,23 330,26C334.3,29 335,36.7 334,40C333,43.3 328.3,45.3 324,46C319.7,46.7 310.7,48 308,44C305.3,40 304.3,25 308,22Z" fill="rgb(102,102,102)"/><path d="M308,72C310.3,61.2 318.7,67 322,70C325.3,73 327.3,83 328,90C328.7,97 327.7,104.5 326,112C324.3,119.5 321,131.2 318,135C315,138.8 309.7,145.5 308,135C306.3,124.5 305.7,82.8 308,72Z" fill="rgb(97,97,97)"/><path d="M320,42C324.5,39 337.5,41.7 345,44C352.5,46.3 360.2,51.3 365,56C369.8,60.7 373.8,66.7 374,72C374.2,77.3 370.7,84.8 366,88C361.3,91.2 352.7,91.7 346,91C339.3,90.3 330.7,88.8 326,84C321.3,79.2 319,69 318,62C317,55 315.5,45 320,42Z" fill="rgb(84,84,84)"/><path d="M364,56C369,53 382.3,54 390,58C397.7,62 406.3,73 410,80C413.7,87 413.3,94 412,100C410.7,106 408,113.5 402,116C396,118.5 382.7,118.3 376,115C369.3,111.7 364.7,102.5 362,96C359.3,89.5 359.7,82.7 360,76C360.3,69.3 359,59 364,56Z" fill="rgb(194,194,194)"/><path d="M323,92C326.2,88.8 334.3,88.7 340,89C345.7,89.3 353.5,90.5 357,94C360.5,97.5 362.2,105.3 361,110C359.8,114.7 355.2,120.2 350,122C344.8,123.8 334.8,123.3 330,121C325.2,118.7 322.2,112.8 321,108C319.8,103.2 319.8,95.2 323,92Z" fill="rgb(107,107,107)"/><path d="M340,110C345.3,107.3 360,107.2 370,108C380,108.8 394.2,111 400,115C405.8,119 408.3,128.2 405,132C401.7,135.8 389.2,137.5 380,138C370.8,138.5 357,137.3 350,135C343,132.7 339.7,128.2 338,124C336.3,119.8 334.7,112.7 340,110Z" fill="rgb(158,158,158)"/><path d="M336,140C338.2,137.5 345.5,140 350,143C354.5,146 358.7,151.2 363,158C367.3,164.8 373,176.2 376,184C379,191.8 381.7,200.2 381,205C380.3,209.8 375.5,214.5 372,213C368.5,211.5 364,202.5 360,196C356,189.5 351.8,180.3 348,174C344.2,167.7 339,163.7 337,158C335,152.3 333.8,142.5 336,140Z" fill="rgb(76,76,76)"/><path d="M368,136C372.8,129.8 385.7,132.3 395,133C404.3,133.7 418.2,133.8 424,140C429.8,146.2 429.7,159.7 430,170C430.3,180.3 431,196 426,202C421,208 407.7,206.7 400,206C392.3,205.3 385.7,204 380,198C374.3,192 368,180.3 366,170C364,159.7 363.2,142.2 368,136Z" fill="rgb(189,189,189)"/><path d="M425,150C428.8,145 440.5,147 445,152C449.5,157 451.2,169.7 452,180C452.8,190.3 452,206 450,214C448,222 443.7,227.7 440,228C436.3,228.3 431,223.7 428,216C425,208.3 422.5,193 422,182C421.5,171 421.2,155 425,150Z" fill="rgb(107,107,107)"/><path d="M452,140C456.2,136.7 468.7,139.2 475,145C481.3,150.8 487.2,164.2 490,175C492.8,185.8 493,201.2 492,210C491,218.8 489,225.3 484,228C479,230.7 467.2,231.5 462,226C456.8,220.5 455,205.2 453,195C451,184.8 450.2,174.2 450,165C449.8,155.8 447.8,143.3 452,140Z" fill="rgb(189,189,189)"/><path d="M395,200C399.7,196.7 414.5,197.8 420,202C425.5,206.2 428,217.7 428,225C428,232.3 424.7,242.8 420,246C415.3,249.2 404.7,248 400,244C395.3,240 392.8,229.3 392,222C391.2,214.7 390.3,203.3 395,200Z" fill="rgb(168,168,168)"/><path d="M345,194C346.7,190.2 359.5,190.3 365,193C370.5,195.7 376.8,205.2 378,210C379.2,214.8 375.8,221 372,222C368.2,223 359.5,220.7 355,216C350.5,211.3 343.3,197.8 345,194Z" fill="rgb(158,158,158)"/><path d="M309,196C310.8,189.8 318.2,192.8 321,196C323.8,199.2 325.7,208.8 326,215C326.3,221.2 325.7,230 323,233C320.3,236 312.3,239.2 310,233C307.7,226.8 307.2,202.2 309,196Z" fill="rgb(163,163,163)"/><path d="M328,200C331.7,197.7 342.2,199 350,204C357.8,209 372.3,223.7 375,230C377.7,236.3 371,241.7 366,242C361,242.3 351.3,236 345,232C338.7,228 330.8,223.3 328,218C325.2,212.7 324.3,202.3 328,200Z" fill="rgb(76,76,76)"/><path d="M308,236C311.7,232.7 326,236.7 330,240C334,243.3 335.7,252.7 332,256C328.3,259.3 312,263.3 308,260C304,256.7 304.3,239.3 308,236Z" fill="rgb(76,76,76)"/><path d="M308,260C313.3,254.8 329.7,259.2 340,259C350.3,258.8 360,258.2 370,259C380,259.8 388.3,263.3 400,264C411.7,264.7 426.7,262 440,263C453.3,264 470,265.5 480,270C490,274.5 528.7,286.7 500,290C471.3,293.3 340,295 308,290C276,285 302.7,265.2 308,260Z" fill="rgb(79,79,79)"/><path d="M420,106C421.7,102.7 433.7,104.7 440,108C446.3,111.3 456,122.3 458,126C460,129.7 456.7,129.7 452,130C447.3,130.3 435.3,132 430,128C424.7,124 418.3,109.3 420,106Z" fill="rgb(158,158,158)"/><path d="M394,100C396,97.3 407,97.7 410,100C413,102.3 414,111.3 412,114C410,116.7 401,118.3 398,116C395,113.7 392,102.7 394,100Z" fill="rgb(102,102,102)"/><path d="M455,226C457.8,222.7 471.2,223 475,226C478.8,229 480.8,240.7 478,244C475.2,247.3 461.8,249 458,246C454.2,243 452.2,229.3 455,226Z" fill="rgb(102,102,102)"/><path d="M312,257C314.7,255.3 322,255 330,255C338,255 354.7,255.5 360,257C365.3,258.5 366.2,262.5 362,264C357.8,265.5 343,265.8 335,266C327,266.2 317.8,266.5 314,265C310.2,263.5 309.3,258.7 312,257Z" fill="rgb(133,133,133)"/><path d="M420,124C425,121 438,119.7 446,122C454,124.3 464.7,131.7 468,138C471.3,144.3 469.8,155.3 466,160C462.2,164.7 452,166.3 445,166C438,165.7 428.8,162.3 424,158C419.2,153.7 416.7,145.7 416,140C415.3,134.3 415,127 420,124Z" fill="rgb(76,76,76)"/></g></g><g clip-path="url(#mc2)"><g filter="url(#bl2)"><ellipse cx="313" cy="31" rx="2.5" ry="1.5" fill="#10e020"/><ellipse cx="340" cy="47" rx="1.5" ry="1.5" fill="#10e020"/><ellipse cx="343" cy="58" rx="1.5" ry="2" fill="#10e020"/><ellipse cx="349" cy="88" rx="3" ry="2" fill="#10e020"/><ellipse cx="327" cy="99" rx="3" ry="1.8" fill="#10e020"/><ellipse cx="444" cy="158" rx="2.5" ry="3.5" fill="#10e020"/><ellipse cx="448" cy="170" rx="1.5" ry="2" fill="#10e020"/><ellipse cx="470" cy="157" rx="2" ry="2" fill="#10e020"/><ellipse cx="475" cy="165" rx="2" ry="2" fill="#10e020"/><ellipse cx="330" cy="112" rx="2" ry="1.5" fill="#10e020"/><ellipse cx="388" cy="100" rx="1.5" ry="1.5" fill="#10e020"/><ellipse cx="355" cy="140" rx="1.5" ry="1.2" fill="#10e020"/><ellipse cx="365" cy="130" rx="1.5" ry="1.5" fill="#10e020"/><ellipse cx="480" cy="140" rx="2.5" ry="2.5" fill="#10e020"/><ellipse cx="418" cy="150" rx="1.5" ry="1.5" fill="#10e020"/><ellipse cx="392" cy="158" rx="1.5" ry="1.5" fill="#10e020"/><ellipse cx="460" cy="236" rx="2" ry="3" fill="#10e020"/><ellipse cx="372" cy="178" rx="1.2" ry="1.2" fill="#10e020"/><ellipse cx="332.5" cy="74" rx="1.5" ry="1.5" fill="#ff2000"/><ellipse cx="401" cy="170" rx="3" ry="3" fill="#ff2000"/><ellipse cx="437" cy="198" rx="2.5" ry="3" fill="#ff2000"/><ellipse cx="414" cy="100" rx="3" ry="3.5" fill="#ff2000"/><ellipse cx="331" cy="285" rx="4" ry="2.5" fill="#ff2000"/><ellipse cx="403" cy="206" rx="2" ry="2" fill="#ff2000"/><ellipse cx="428" cy="103" rx="2" ry="2" fill="#ff2000"/><ellipse cx="360" cy="96" rx="1.5" ry="1.5" fill="#ff2000"/><ellipse cx="322.5" cy="38" rx="0.9" ry="3.5" fill="#ff2000"/><ellipse cx="323.5" cy="46" rx="0.9" ry="3" fill="#ff2000"/><ellipse cx="325" cy="54" rx="0.9" ry="2.5" fill="#ff2000"/><ellipse cx="410" cy="176" rx="1.5" ry="1.5" fill="#ff2000"/><ellipse cx="380" cy="285" rx="2" ry="1.5" fill="#ff2000"/><ellipse cx="445" cy="110" rx="1.5" ry="1.5" fill="#ff2000"/><ellipse cx="395" cy="280" rx="1.5" ry="1.2" fill="#ff2000"/><path d="M305,20C309.2,19.7 326.2,25.2 330,27C333.8,28.8 329.7,30.5 328,31C326.3,31.5 322.7,30.5 320,30C317.3,29.5 314.5,28.2 312,28C309.5,27.8 306.2,30.3 305,29C303.8,27.7 300.8,20.3 305,20Z" fill="#ff2020"/><ellipse cx="318" cy="26" rx="4" ry="2" fill="#ff10c0"/><ellipse cx="317.5" cy="85" rx="9" ry="7.5" fill="#ff8a00"/><ellipse cx="316" cy="85" rx="6.5" ry="5" fill="#ff5a00"/><ellipse cx="316" cy="84" rx="3.5" ry="3" fill="#ff2a00"/><ellipse cx="344" cy="100" rx="12" ry="7.8" fill="#ff4000"/><ellipse cx="344" cy="100" rx="10" ry="6.3" fill="#ff1030"/><ellipse cx="343.5" cy="100" rx="7.5" ry="4.8" fill="#ff0090"/><ellipse cx="343" cy="100" rx="5" ry="3" fill="#ff30d0"/><ellipse cx="316.5" cy="143" rx="7" ry="9" fill="#ff9a00"/><ellipse cx="320" cy="173" rx="4.5" ry="7" fill="#ff1a1a"/><ellipse cx="320" cy="173" rx="3" ry="5" fill="#ff10c0"/><ellipse cx="318.5" cy="187" rx="8" ry="7.5" fill="#00e0ff"/><ellipse cx="318.5" cy="187" rx="6" ry="5.5" fill="#2a60ff"/><ellipse cx="318.5" cy="187" rx="4" ry="3.6" fill="#ff40e0"/><ellipse cx="318.5" cy="187" rx="2" ry="2" fill="#ff99ff"/><ellipse cx="414" cy="100.5" rx="2.8" ry="2" fill="#ff2a00"/><ellipse cx="425.5" cy="105" rx="2.5" ry="2.5" fill="#ff3000"/><path d="M402,119C402.8,117.9 405.7,117.3 407,117.5C408.3,117.7 409.7,118.8 410,120C410.3,121.2 409.8,123.9 409,125C408.2,126.1 406.2,126.7 405,126.5C403.8,126.3 402.5,125.2 402,124C401.5,122.8 401.2,120.1 402,119Z" fill="#00e0ff"/><path d="M404,125C404.7,123.9 407.7,123.2 409,123.5C410.3,123.8 411.8,125.9 412,127C412.2,128.1 411.2,129.5 410,130C408.8,130.5 406,130.8 405,130C404,129.2 403.3,126.1 404,125Z" fill="#ff40e0"/><ellipse cx="410" cy="121" rx="1.6" ry="1.6" fill="#3a78ff"/><ellipse cx="400.5" cy="128.5" rx="1.8" ry="1.4" fill="#ff1a60"/><ellipse cx="398.5" cy="126.5" rx="1.5" ry="1.5" fill="#10e030"/><ellipse cx="406" cy="122" rx="1.2" ry="1.2" fill="#10e060"/><ellipse cx="419.8" cy="103" rx="1.8" ry="2.2" fill="#ff40e0"/><ellipse cx="418.5" cy="108" rx="2" ry="2.2" fill="#00e0ff"/><ellipse cx="420" cy="111.5" rx="1.8" ry="1.3" fill="#ff1a60"/><ellipse cx="405" cy="138" rx="2.5" ry="1.3" fill="#10e020"/><ellipse cx="425.5" cy="120.5" rx="2.5" ry="3.6" fill="#ff30d0"/><ellipse cx="428.5" cy="124" rx="2" ry="1.5" fill="#ff2000"/><ellipse cx="423" cy="117" rx="1.5" ry="1.5" fill="#ff2000"/><ellipse cx="447" cy="142.2" rx="16.5" ry="9.5" fill="#ff8a10" transform="rotate(28 447 142.2)"/><ellipse cx="446" cy="141" rx="13" ry="7" fill="#ff6a20" transform="rotate(28 446 141)"/><ellipse cx="440" cy="139" rx="7" ry="4.5" fill="#ff3a10" transform="rotate(28 440 139)"/><ellipse cx="438" cy="137" rx="4.5" ry="3.5" fill="#ff2010"/><ellipse cx="453" cy="151" rx="3.2" ry="2.8" fill="#ff2010"/><ellipse cx="442.5" cy="177" rx="10.5" ry="7" fill="#ff5a10"/><ellipse cx="442" cy="177" rx="8" ry="5.5" fill="#ff1a30"/><ellipse cx="441.5" cy="177" rx="6" ry="4" fill="#ff10b0"/><ellipse cx="441" cy="177" rx="3.5" ry="2.5" fill="#ff50e0"/><ellipse cx="448" cy="176" rx="2.5" ry="2.5" fill="#00e8e0"/><path d="M478,150C479.7,150.8 482.2,155.3 484,160C485.8,164.7 487.7,171.7 489,178C490.3,184.3 491.5,193 492,198C492.5,203 493,206.8 492,208C491,209.2 487.7,208.8 486,205C484.3,201.2 483.5,191.7 482,185C480.5,178.3 478.3,170 477,165C475.7,160 473.8,157.5 474,155C474.2,152.5 476.3,149.2 478,150Z" fill="#ff1040"/><path d="M481,160C482.3,161.7 484.7,169.2 486,175C487.3,180.8 489,191.3 489,195C489,198.7 487.2,199.8 486,197C484.8,194.2 483.3,183.3 482,178C480.7,172.7 478.2,168 478,165C477.8,162 479.7,158.3 481,160Z" fill="#ff10b0"/><ellipse cx="392" cy="218" rx="3" ry="2.5" fill="#00e890"/><ellipse cx="397" cy="226" rx="2.5" ry="3" fill="#00e8e0"/><ellipse cx="388" cy="229" rx="2.5" ry="2" fill="#10e030"/><ellipse cx="393" cy="221" rx="2" ry="2" fill="#ff30d0"/><ellipse cx="396" cy="233" rx="2.5" ry="2" fill="#00e8ff"/><ellipse cx="389" cy="232" rx="1.8" ry="1.8" fill="#ff2060"/><ellipse cx="399" cy="220" rx="1.5" ry="1.5" fill="#2a70ff"/><ellipse cx="403" cy="212" rx="2.5" ry="2" fill="#00e8c0"/><ellipse cx="384" cy="224" rx="1.5" ry="2.5" fill="#00e8c0"/><ellipse cx="400" cy="238" rx="2" ry="1.5" fill="#ff20a0"/><ellipse cx="385" cy="236" rx="2" ry="1.5" fill="#00e8e0"/><ellipse cx="431" cy="230" rx="11" ry="14" fill="#ff2020" transform="rotate(-15 431 230)"/><ellipse cx="431" cy="229" rx="8.5" ry="11" fill="#ff10a0" transform="rotate(-15 431 229)"/><ellipse cx="430" cy="227" rx="6" ry="7.5" fill="#ff40e0" transform="rotate(-15 430 227)"/><path d="M442,224C443.2,222.2 446.3,222 448,223C449.7,224 451.7,227.2 452,230C452.3,232.8 451.2,238 450,240C448.8,242 446.5,243 445,242C443.5,241 441.5,237 441,234C440.5,231 440.8,225.8 442,224Z" fill="#10e030"/><ellipse cx="446" cy="231" rx="1.8" ry="3" fill="#00e8e0"/><path d="M453,238C453.7,236.2 455.8,236 457,237C458.2,238 460,241.8 460,244C460,246.2 458.2,249.3 457,250C455.8,250.7 453.7,250 453,248C452.3,246 452.3,239.8 453,238Z" fill="#10e030"/><ellipse cx="474" cy="224" rx="1.5" ry="2.5" fill="#10e030"/><ellipse cx="466" cy="235" rx="2" ry="2.5" fill="#10e030"/><ellipse cx="490" cy="237" rx="6.5" ry="14" fill="#ff1040"/><ellipse cx="491" cy="237" rx="4.5" ry="11" fill="#ff10b0"/><ellipse cx="489" cy="281" rx="7" ry="6" fill="#ff10a0"/><ellipse cx="489" cy="281" rx="4" ry="3.5" fill="#00e8f0"/><ellipse cx="437.7" cy="272.7" rx="6.4" ry="9.6" fill="#ff9a00"/></g><path d="M306.8,237.2 L316.1,241.3 L326.6,238.3 L336.1,237.3 L341.9,242.6 L351.5,245.5 L362.3,247.5 L373.9,248.5 L383.2,250.8 L392.6,252.6 L402.1,256.5 L410.8,259 L424.8,258 L440,256.5 L456.5,258.6 L473,264.3 L486.4,275.6 L497.5,287.6" fill="none" stroke="#ff1a78" stroke-width="1.9" stroke-linejoin="round" stroke-linecap="round"/><path d="M305.2,240.8 L315.9,245.3 L327.4,242.3 L334.9,241.1 L340.1,246.2 L350.5,249.3 L361.7,251.5 L373.3,252.5 L382.4,254.8 L391.4,256.4 L400.7,260.3 L410.6,263 L425.2,262 L440,260.5 L455.5,262.4 L471,267.7 L483.6,278.4 L494.5,290.4" fill="none" stroke="#ff3a20" stroke-width="1.2" stroke-linejoin="round" stroke-linecap="round" stroke-dasharray="3 5"/><path d="M306,239 L316,243.3 L327,240.3 L335.5,239.2 L341,244.4 L351,247.4 L362,249.5 L373.6,250.5 L382.8,252.8 L392,254.5 L401.4,258.4 L410.7,261 L425,260 L440,258.5 L456,260.5 L472,266 L485,277 L496,289" fill="none" stroke="#00e6ec" stroke-width="2.3" stroke-linejoin="round" stroke-linecap="round"/><path d="M306.1,238.7 L316,243 L326.9,240 L335.6,238.9 L341.1,244.1 L351.1,247.1 L362,249.2 L373.6,250.2 L382.9,252.5 L392.1,254.2 L401.5,258.1 L410.7,260.7 L425,259.7 L440,258.2 L456.1,260.2 L472.1,265.7 L485.2,276.8 L496.2,288.8" fill="none" stroke="#10d0ff" stroke-width="0.8" stroke-linejoin="round" stroke-linecap="round" stroke-dasharray="2 9"/><path d="M326.5,189.3 L341.7,204.5 L359,221.9 L372,232.7 L385,241.4 L398,250" fill="none" stroke="#ff1a50" stroke-width="1.3" stroke-linejoin="round" stroke-linecap="round"/><path d="M327.6,188.2 L342.8,203.4 L360.1,220.7 L373,231.4 L385.9,240.1 L398.9,248.7" fill="none" stroke="#10e0d0" stroke-width="1" stroke-linejoin="round" stroke-linecap="round" stroke-dasharray="2 3"/><path d="M307.4,106.9 L316.5,109.9 L328.5,115.9" fill="none" stroke="#ff10a0" stroke-width="1.8" stroke-linejoin="round" stroke-linecap="round"/><path d="M306.7,108.8 L315.7,111.7 L327.6,117.7" fill="none" stroke="#00e8e0" stroke-width="1.6" stroke-linejoin="round" stroke-linecap="round"/><path d="M308,114 L318,117.5 L329,121.5" fill="none" stroke="#00e0e0" stroke-width="1.3" stroke-linejoin="round" stroke-linecap="round" stroke-dasharray="3 2"/><path d="M325,110 L330,114" fill="none" stroke="#ff10a0" stroke-width="2" stroke-linejoin="round" stroke-linecap="round"/><path d="M319.9,144.5 L323.9,151.6 L326.9,159.7 L330,169.7" fill="none" stroke="#ff1080" stroke-width="1.6" stroke-linejoin="round" stroke-linecap="round"/><path d="M318.2,145.4 L322.2,152.4 L325.1,160.3 L328.1,170.3" fill="none" stroke="#10e0e0" stroke-width="1.4" stroke-linejoin="round" stroke-linecap="round"/><path d="M315.1,197.4 L321.4,206.9 L325.9,217.6 L329.1,225.6 L333.7,233.1 L336.7,236.1" fill="none" stroke="#ff2080" stroke-width="1.6" stroke-linejoin="round" stroke-linecap="round" stroke-dasharray="4 2"/><path d="M313.5,198.6 L319.6,207.9 L324.1,218.4 L327.3,226.4 L332.1,234.3 L335.3,237.5" fill="none" stroke="#00e0f0" stroke-width="1.5" stroke-linejoin="round" stroke-linecap="round" stroke-dasharray="3 2"/><path d="M314.3,198 L320.5,207.4 L325,218 L328.2,226 L332.9,233.7 L336,236.8" fill="none" stroke="#3a70ff" stroke-width="0.9" stroke-linejoin="round" stroke-linecap="round" stroke-dasharray="2 6"/><path d="M345,238 L360.6,238.5 L377.3,243.6 L392,249 L403,254.7 L416,256.6 L425,252.8 L432,249" fill="none" stroke="#ff1a50" stroke-width="1.5" stroke-linejoin="round" stroke-linecap="round" stroke-dasharray="6 2"/><path d="M345,239.5 L360.3,240 L376.8,245 L391.4,250.4 L402.5,256.1 L416.1,258.1 L425.6,254.2 L432.7,250.3" fill="none" stroke="#10e0e0" stroke-width="1.2" stroke-linejoin="round" stroke-linecap="round" stroke-dasharray="4 3"/><path d="M308,235.2 L328,234.5 L336,232" fill="none" stroke="#ff2060" stroke-width="1.2" stroke-linejoin="round" stroke-linecap="round"/><path d="M334.5,231 L337,235 L339.5,240" fill="none" stroke="#ff70f0" stroke-width="2.4" stroke-linejoin="round" stroke-linecap="round"/><path d="M371.7,256.6 L376,264 L381,271.4" fill="none" stroke="#ff2050" stroke-width="1" stroke-linejoin="round" stroke-linecap="round" stroke-dasharray="2 2"/><path d="M398,244.5 L406,246" fill="none" stroke="#ff30d0" stroke-width="2.6" stroke-linejoin="round" stroke-linecap="round"/><path d="M425,247 L440,244 L450,240" fill="none" stroke="#10e0e0" stroke-width="1.3" stroke-linejoin="round" stroke-linecap="round" stroke-dasharray="3 2"/><path d="M380,243 L395,250 L412,258" fill="none" stroke="#ff1a40" stroke-width="1.4" stroke-linejoin="round" stroke-linecap="round"/><path d="M380.6,241.7 L395.6,248.7 L412.6,256.7" fill="none" stroke="#10e0e0" stroke-width="1" stroke-linejoin="round" stroke-linecap="round" stroke-dasharray="2 2"/><path d="M354,219 L365,226 L380,234" fill="none" stroke="#ff20a0" stroke-width="1" stroke-linejoin="round" stroke-linecap="round" stroke-dasharray="2 2"/><path d="M326.8,225 L333.4,233.7" fill="none" stroke="#ff2050" stroke-width="1.6" stroke-linejoin="round" stroke-linecap="round"/><path d="M364,274 L372,277 L380,281" fill="none" stroke="#00e060" stroke-width="3.2" stroke-linejoin="round" stroke-linecap="round"/><path d="M366,275 L372,277.5 L379,280.5" fill="none" stroke="#00eeff" stroke-width="1.4" stroke-linejoin="round" stroke-linecap="round"/><path d="M428,106 L440,116 L456,130 L468,140" fill="none" stroke="#40e8c0" stroke-width="1.2" stroke-linejoin="round" stroke-linecap="round" stroke-dasharray="4 3"/></g><rect x="7.5" y="7.5" width="259" height="309" fill="none" stroke="#a9a9a9" stroke-width="1"/><rect x="21.5" y="17.5" width="203" height="278" fill="none" stroke="#9d9d9d" stroke-width="1"/><line x1="72.5" y1="18" x2="72.5" y2="20" stroke="#aaa" stroke-width="1"/><line x1="190.5" y1="18" x2="190.5" y2="20" stroke="#aaa" stroke-width="1"/><line x1="74.5" y1="293" x2="74.5" y2="295" stroke="#aaa" stroke-width="1"/><line x1="194.5" y1="293" x2="194.5" y2="295" stroke="#aaa" stroke-width="1"/><line x1="22" y1="149.5" x2="24" y2="149.5" stroke="#aaa" stroke-width="1"/><line x1="22" y1="280.5" x2="24" y2="280.5" stroke="#aaa" stroke-width="1"/><line x1="221" y1="147.5" x2="224" y2="147.5" stroke="#aaa" stroke-width="1"/><line x1="221" y1="278.5" x2="224" y2="278.5" stroke="#aaa" stroke-width="1"/><text x="68" y="15.4" font-size="7.7" fill="#222" letter-spacing="-0.45">106</text><text x="79" y="12.2" font-size="5" fill="#555">°</text><text x="186.3" y="15.4" font-size="7.7" fill="#222" letter-spacing="-0.45">107</text><text x="197.6" y="12.2" font-size="5" fill="#555">°</text><text x="68.2" y="302" font-size="7.7" fill="#222" letter-spacing="-0.45">106</text><text x="79.2" y="298.8" font-size="5" fill="#555">°</text><text x="190.3" y="302.2" font-size="7.7" fill="#222" letter-spacing="-0.45">107</text><text x="201.3" y="299" font-size="5" fill="#555">°</text><text x="8.7" y="151" font-size="7.7" fill="#222" letter-spacing="-0.45">25</text><text x="16.4" y="147.8" font-size="5" fill="#555">°</text><text x="8.7" y="282" font-size="7.7" fill="#222" letter-spacing="-0.45">24</text><text x="16.4" y="278.8" font-size="5" fill="#555">°</text><text x="226.4" y="149.5" font-size="7.7" fill="#222" letter-spacing="-0.45">25</text><text x="234.3" y="146.3" font-size="5" fill="#555">°</text><text x="226" y="281.2" font-size="7.7" fill="#222" letter-spacing="-0.45">24</text><text x="233.9" y="278" font-size="5" fill="#555">°</text><text x="208.3" y="35.3" font-size="6.8" fill="#222" font-weight="bold">N</text><line x1="210.5" y1="38" x2="210.5" y2="62.2" stroke="#8a8a8a" stroke-width="0.7"/><path d="M210.5,38 L213.6,47.3 L210.8,43.5Z" fill="#8a8a8a"/><text x="12.3" y="309.6" font-size="13.5" fill="#1a1a1a">(c)</text><rect x="95.2" y="310.6" width="70.9" height="2.7" fill="#fff" stroke="#555" stroke-width="0.4"/><rect x="95.2" y="310.6" width="4.9" height="2.7" fill="#111"/><rect x="104.4" y="310.6" width="5.2" height="2.7" fill="#111"/><rect x="114.2" y="310.6" width="5.3" height="2.7" fill="#111"/><rect x="142.4" y="310.6" width="23.7" height="2.7" fill="#111"/><rect x="119.5" y="310.9" width="22.9" height="2.1" fill="#fff" stroke="#bbb" stroke-width="0.5"/><text x="94.6" y="308.6" font-size="5.8" fill="#444" textLength="2.8" lengthAdjust="spacingAndGlyphs" class="s">0</text><text x="106.9" y="308.6" font-size="5.8" fill="#444" textLength="6" lengthAdjust="spacingAndGlyphs" class="s">12</text><text x="115.9" y="308.6" font-size="5.8" fill="#444" textLength="6.8" lengthAdjust="spacingAndGlyphs" class="s">20</text><text x="139" y="308.6" font-size="5.8" fill="#444" textLength="7.5" lengthAdjust="spacingAndGlyphs" class="s">40</text><text x="162.8" y="308.6" font-size="5.8" fill="#444" textLength="14.7" lengthAdjust="spacingAndGlyphs" class="s">60km</text><rect x="283.5" y="7.5" width="259" height="309" fill="none" stroke="#a9a9a9" stroke-width="1"/><rect x="297.5" y="17.5" width="203" height="278" fill="none" stroke="#9d9d9d" stroke-width="1"/><line x1="348.5" y1="18" x2="348.5" y2="20" stroke="#aaa" stroke-width="1"/><line x1="466.5" y1="18" x2="466.5" y2="20" stroke="#aaa" stroke-width="1"/><line x1="350.5" y1="293" x2="350.5" y2="295" stroke="#aaa" stroke-width="1"/><line x1="470.5" y1="293" x2="470.5" y2="295" stroke="#aaa" stroke-width="1"/><line x1="298" y1="149.5" x2="300" y2="149.5" stroke="#aaa" stroke-width="1"/><line x1="298" y1="280.5" x2="300" y2="280.5" stroke="#aaa" stroke-width="1"/><line x1="497" y1="147.5" x2="500" y2="147.5" stroke="#aaa" stroke-width="1"/><line x1="497" y1="278.5" x2="500" y2="278.5" stroke="#aaa" stroke-width="1"/><text x="344" y="15.4" font-size="7.7" fill="#222" letter-spacing="-0.45">106</text><text x="355" y="12.2" font-size="5" fill="#555">°</text><text x="462.3" y="15.4" font-size="7.7" fill="#222" letter-spacing="-0.45">107</text><text x="473.6" y="12.2" font-size="5" fill="#555">°</text><text x="344.2" y="302" font-size="7.7" fill="#222" letter-spacing="-0.45">106</text><text x="355.2" y="298.8" font-size="5" fill="#555">°</text><text x="466.3" y="302.2" font-size="7.7" fill="#222" letter-spacing="-0.45">107</text><text x="477.3" y="299" font-size="5" fill="#555">°</text><text x="284.7" y="151" font-size="7.7" fill="#222" letter-spacing="-0.45">25</text><text x="292.4" y="147.8" font-size="5" fill="#555">°</text><text x="284.7" y="282" font-size="7.7" fill="#222" letter-spacing="-0.45">24</text><text x="292.4" y="278.8" font-size="5" fill="#555">°</text><text x="502.4" y="149.5" font-size="7.7" fill="#222" letter-spacing="-0.45">25</text><text x="510.3" y="146.3" font-size="5" fill="#555">°</text><text x="502" y="281.2" font-size="7.7" fill="#222" letter-spacing="-0.45">24</text><text x="509.9" y="278" font-size="5" fill="#555">°</text><text x="484.3" y="35.3" font-size="6.8" fill="#222" font-weight="bold">N</text><line x1="486.5" y1="38" x2="486.5" y2="62.2" stroke="#8a8a8a" stroke-width="0.7"/><path d="M486.5,38 L489.6,47.3 L486.8,43.5Z" fill="#8a8a8a"/><text x="288.3" y="309.6" font-size="13.5" fill="#1a1a1a">(d)</text><rect x="371.2" y="310.6" width="70.9" height="2.7" fill="#fff" stroke="#555" stroke-width="0.4"/><rect x="371.2" y="310.6" width="4.9" height="2.7" fill="#111"/><rect x="380.4" y="310.6" width="5.2" height="2.7" fill="#111"/><rect x="390.2" y="310.6" width="5.3" height="2.7" fill="#111"/><rect x="418.4" y="310.6" width="23.7" height="2.7" fill="#111"/><rect x="395.5" y="310.9" width="22.9" height="2.1" fill="#fff" stroke="#bbb" stroke-width="0.5"/><text x="370.6" y="308.6" font-size="5.8" fill="#444" textLength="2.8" lengthAdjust="spacingAndGlyphs" class="s">0</text><text x="382.9" y="308.6" font-size="5.8" fill="#444" textLength="6" lengthAdjust="spacingAndGlyphs" class="s">12</text><text x="391.9" y="308.6" font-size="5.8" fill="#444" textLength="6.8" lengthAdjust="spacingAndGlyphs" class="s">20</text><text x="415" y="308.6" font-size="5.8" fill="#444" textLength="7.5" lengthAdjust="spacingAndGlyphs" class="s">40</text><text x="438.8" y="308.6" font-size="5.8" fill="#444" textLength="14.7" lengthAdjust="spacingAndGlyphs" class="s">60km</text><rect x="238.5" y="39" width="9.8" height="6.8" fill="#ff5eff"/><rect x="238.5" y="45.5" width="9.8" height="6.8" fill="#ff30e8"/><rect x="238.5" y="52" width="9.8" height="6.8" fill="#ff10c8"/><rect x="238.5" y="58.5" width="9.8" height="6.8" fill="#ff00a0"/><rect x="238.5" y="64.9" width="9.8" height="6.8" fill="#ff0078"/><rect x="238.5" y="71.4" width="9.8" height="6.8" fill="#ff0050"/><rect x="238.5" y="77.9" width="9.8" height="6.8" fill="#ff0030"/><rect x="238.5" y="84.4" width="9.8" height="6.8" fill="#ff0018"/><rect x="238.5" y="90.9" width="9.8" height="6.8" fill="#ff0a00"/><rect x="238.5" y="97.4" width="9.8" height="6.8" fill="#ff3000"/><rect x="238.5" y="103.9" width="9.8" height="6.8" fill="#ff4800"/><rect x="238.5" y="110.4" width="9.8" height="6.8" fill="#ff5c00"/><rect x="238.5" y="116.8" width="9.8" height="6.8" fill="#ff7000"/><rect x="238.5" y="123.3" width="9.8" height="6.8" fill="#ff8000"/><rect x="238.5" y="129.8" width="9.8" height="6.8" fill="#ff9000"/><rect x="238.5" y="136.3" width="9.8" height="6.8" fill="#ffa000"/><rect x="238.5" y="142.8" width="9.8" height="6.8" fill="#ffb000"/><rect x="238.5" y="149.3" width="9.8" height="6.8" fill="#ffc000"/><rect x="238.5" y="155.8" width="9.8" height="6.8" fill="#ffd400"/><rect x="238.5" y="162.3" width="9.8" height="6.8" fill="#fff000"/><rect x="238.5" y="168.7" width="9.8" height="6.8" fill="#ccee00"/><rect x="238.5" y="175.2" width="9.8" height="6.8" fill="#99ee00"/><rect x="238.5" y="181.7" width="9.8" height="6.8" fill="#00e400"/><rect x="238.5" y="188.2" width="9.8" height="6.8" fill="#00e400"/><rect x="238.5" y="194.7" width="9.8" height="6.8" fill="#00e400"/><rect x="238.5" y="201.2" width="9.8" height="6.8" fill="#00e400"/><rect x="238.5" y="207.7" width="9.8" height="6.8" fill="#00e400"/><rect x="238.5" y="214.2" width="9.8" height="6.8" fill="#00e400"/><rect x="238.5" y="220.6" width="9.8" height="6.8" fill="#00e400"/><rect x="238.5" y="227.1" width="9.8" height="6.8" fill="#00e880"/><rect x="238.5" y="233.6" width="9.8" height="6.8" fill="#00f0c8"/><rect x="238.5" y="240.1" width="9.8" height="6.8" fill="#00ffff"/><rect x="238.5" y="246.6" width="9.8" height="6.8" fill="#00e0ff"/><rect x="238.5" y="253.1" width="9.8" height="6.8" fill="#00c4ff"/><rect x="238.5" y="259.6" width="9.8" height="6.8" fill="#00a8ff"/><rect x="238.5" y="266.1" width="9.8" height="6.8" fill="#0088ff"/><rect x="238.5" y="272.5" width="9.8" height="6.8" fill="#0068ff"/><rect x="238.5" y="279" width="9.8" height="6.8" fill="#0050ff"/><rect x="238.5" y="285.5" width="9.8" height="6.8" fill="#0040ff"/><line x1="238.5" y1="45.5" x2="248.3" y2="45.5" stroke="rgba(120,60,40,0.25)" stroke-width="0.4"/><line x1="238.5" y1="52" x2="248.3" y2="52" stroke="rgba(120,60,40,0.25)" stroke-width="0.4"/><line x1="238.5" y1="58.5" x2="248.3" y2="58.5" stroke="rgba(120,60,40,0.25)" stroke-width="0.4"/><line x1="238.5" y1="64.9" x2="248.3" y2="64.9" stroke="rgba(120,60,40,0.25)" stroke-width="0.4"/><line x1="238.5" y1="71.4" x2="248.3" y2="71.4" stroke="rgba(120,60,40,0.25)" stroke-width="0.4"/><line x1="238.5" y1="77.9" x2="248.3" y2="77.9" stroke="rgba(120,60,40,0.25)" stroke-width="0.4"/><line x1="238.5" y1="84.4" x2="248.3" y2="84.4" stroke="rgba(120,60,40,0.25)" stroke-width="0.4"/><line x1="238.5" y1="90.9" x2="248.3" y2="90.9" stroke="rgba(120,60,40,0.25)" stroke-width="0.4"/><line x1="238.5" y1="97.4" x2="248.3" y2="97.4" stroke="rgba(120,60,40,0.25)" stroke-width="0.4"/><line x1="238.5" y1="103.9" x2="248.3" y2="103.9" stroke="rgba(120,60,40,0.25)" stroke-width="0.4"/><line x1="238.5" y1="110.4" x2="248.3" y2="110.4" stroke="rgba(120,60,40,0.25)" stroke-width="0.4"/><line x1="238.5" y1="116.8" x2="248.3" y2="116.8" stroke="rgba(120,60,40,0.25)" stroke-width="0.4"/><line x1="238.5" y1="123.3" x2="248.3" y2="123.3" stroke="rgba(120,60,40,0.25)" stroke-width="0.4"/><line x1="238.5" y1="129.8" x2="248.3" y2="129.8" stroke="rgba(120,60,40,0.25)" stroke-width="0.4"/><line x1="238.5" y1="136.3" x2="248.3" y2="136.3" stroke="rgba(120,60,40,0.25)" stroke-width="0.4"/><line x1="238.5" y1="142.8" x2="248.3" y2="142.8" stroke="rgba(120,60,40,0.25)" stroke-width="0.4"/><line x1="238.5" y1="149.3" x2="248.3" y2="149.3" stroke="rgba(120,60,40,0.25)" stroke-width="0.4"/><line x1="238.5" y1="155.8" x2="248.3" y2="155.8" stroke="rgba(120,60,40,0.25)" stroke-width="0.4"/><line x1="238.5" y1="162.3" x2="248.3" y2="162.3" stroke="rgba(120,60,40,0.25)" stroke-width="0.4"/><line x1="238.5" y1="168.7" x2="248.3" y2="168.7" stroke="rgba(120,60,40,0.25)" stroke-width="0.4"/><line x1="238.5" y1="175.2" x2="248.3" y2="175.2" stroke="rgba(120,60,40,0.25)" stroke-width="0.4"/><line x1="238.5" y1="181.7" x2="248.3" y2="181.7" stroke="rgba(120,60,40,0.25)" stroke-width="0.4"/><line x1="238.5" y1="188.2" x2="248.3" y2="188.2" stroke="rgba(120,60,40,0.25)" stroke-width="0.4"/><line x1="238.5" y1="194.7" x2="248.3" y2="194.7" stroke="rgba(120,60,40,0.25)" stroke-width="0.4"/><line x1="238.5" y1="201.2" x2="248.3" y2="201.2" stroke="rgba(120,60,40,0.25)" stroke-width="0.4"/><line x1="238.5" y1="207.7" x2="248.3" y2="207.7" stroke="rgba(120,60,40,0.25)" stroke-width="0.4"/><line x1="238.5" y1="214.2" x2="248.3" y2="214.2" stroke="rgba(120,60,40,0.25)" stroke-width="0.4"/><line x1="238.5" y1="220.6" x2="248.3" y2="220.6" stroke="rgba(120,60,40,0.25)" stroke-width="0.4"/><line x1="238.5" y1="227.1" x2="248.3" y2="227.1" stroke="rgba(120,60,40,0.25)" stroke-width="0.4"/><line x1="238.5" y1="233.6" x2="248.3" y2="233.6" stroke="rgba(120,60,40,0.25)" stroke-width="0.4"/><line x1="238.5" y1="240.1" x2="248.3" y2="240.1" stroke="rgba(120,60,40,0.25)" stroke-width="0.4"/><line x1="238.5" y1="246.6" x2="248.3" y2="246.6" stroke="rgba(120,60,40,0.25)" stroke-width="0.4"/><line x1="238.5" y1="253.1" x2="248.3" y2="253.1" stroke="rgba(120,60,40,0.25)" stroke-width="0.4"/><line x1="238.5" y1="259.6" x2="248.3" y2="259.6" stroke="rgba(120,60,40,0.25)" stroke-width="0.4"/><line x1="238.5" y1="266.1" x2="248.3" y2="266.1" stroke="rgba(120,60,40,0.25)" stroke-width="0.4"/><line x1="238.5" y1="272.5" x2="248.3" y2="272.5" stroke="rgba(120,60,40,0.25)" stroke-width="0.4"/><line x1="238.5" y1="279" x2="248.3" y2="279" stroke="rgba(120,60,40,0.25)" stroke-width="0.4"/><line x1="238.5" y1="285.5" x2="248.3" y2="285.5" stroke="rgba(120,60,40,0.25)" stroke-width="0.4"/><text x="251.4" y="47.2" font-size="4.9" fill="#333">15.9</text><text x="251.4" y="53.7" font-size="4.9" fill="#333">10.3</text><text x="251.4" y="60.2" font-size="4.9" fill="#333">7.2</text><text x="251.4" y="66.6" font-size="4.9" fill="#333">5.2</text><text x="251.4" y="73.1" font-size="4.9" fill="#333">3.9</text><text x="251.4" y="79.6" font-size="4.9" fill="#333">3.0</text><text x="251.4" y="86.1" font-size="4.9" fill="#333">2.2</text><text x="251.4" y="92.6" font-size="4.9" fill="#333">1.6</text><text x="251.4" y="99.1" font-size="4.9" fill="#333">0.9</text><text x="251.4" y="105.6" font-size="4.9" fill="#333">0.2</text><text x="251.4" y="112.1" font-size="4.9" fill="#333">&#8722;0.3</text><text x="251.4" y="118.5" font-size="4.9" fill="#333">&#8722;0.9</text><text x="251.4" y="125" font-size="4.9" fill="#333">&#8722;1.6</text><text x="251.4" y="131.5" font-size="4.9" fill="#333">&#8722;2.3</text><text x="251.4" y="138" font-size="4.9" fill="#333">&#8722;3.0</text><text x="251.4" y="144.5" font-size="4.9" fill="#333">&#8722;3.6</text><text x="251.4" y="151" font-size="4.9" fill="#333">&#8722;4.2</text><text x="251.4" y="157.5" font-size="4.9" fill="#333">&#8722;4.7</text><text x="251.4" y="164" font-size="4.9" fill="#333">&#8722;5.2</text><text x="251.4" y="170.4" font-size="4.9" fill="#333">&#8722;5.6</text><text x="251.4" y="176.9" font-size="4.9" fill="#333">&#8722;6.1</text><text x="251.4" y="183.4" font-size="4.9" fill="#333">&#8722;6.7</text><text x="251.4" y="189.9" font-size="4.9" fill="#333">&#8722;7.2</text><text x="251.4" y="196.4" font-size="4.9" fill="#333">&#8722;7.7</text><text x="251.4" y="202.9" font-size="4.9" fill="#333">&#8722;8.2</text><text x="251.4" y="209.4" font-size="4.9" fill="#333">&#8722;8.8</text><text x="251.4" y="215.9" font-size="4.9" fill="#333">&#8722;9.4</text><text x="251.4" y="222.3" font-size="4.9" fill="#333">&#8722;10.1</text><text x="251.4" y="228.8" font-size="4.9" fill="#333">&#8722;10.9</text><text x="251.4" y="235.3" font-size="4.9" fill="#333">&#8722;11.6</text><text x="251.4" y="241.8" font-size="4.9" fill="#333">&#8722;12.5</text><text x="251.4" y="248.3" font-size="4.9" fill="#333">&#8722;13.1</text><text x="251.4" y="254.8" font-size="4.9" fill="#333">&#8722;14.1</text><text x="251.4" y="261.3" font-size="4.9" fill="#333">&#8722;15.3</text><text x="251.4" y="267.8" font-size="4.9" fill="#333">&#8722;16.8</text><text x="251.4" y="274.2" font-size="4.9" fill="#333">&#8722;18.8</text><text x="251.4" y="280.7" font-size="4.9" fill="#333">&#8722;21.7</text><text x="251.4" y="287.2" font-size="4.9" fill="#333">&#8722;23.8</text><text x="240.3" y="35.8" font-size="8" fill="#222" textLength="7" lengthAdjust="spacingAndGlyphs">nT</text><rect x="516" y="170.8" width="11" height="7.4" fill="#ff9cff"/><rect x="516" y="177.9" width="11" height="7.4" fill="#ff30dc"/><rect x="516" y="185" width="11" height="7.4" fill="#ff0058"/><rect x="516" y="192.1" width="11" height="7.4" fill="#ff0800"/><rect x="516" y="199.2" width="11" height="7.4" fill="#ff5a00"/><rect x="516" y="206.2" width="11" height="7.4" fill="#ff8c00"/><rect x="516" y="213.3" width="11" height="7.4" fill="#ffaa00"/><rect x="516" y="220.4" width="11" height="7.4" fill="#ffc000"/><rect x="516" y="227.5" width="11" height="7.4" fill="#ffe000"/><rect x="516" y="234.6" width="11" height="7.4" fill="#ffff00"/><rect x="516" y="241.7" width="11" height="7.4" fill="#ccf400"/><rect x="516" y="248.8" width="11" height="7.4" fill="#00e800"/><rect x="516" y="255.9" width="11" height="7.4" fill="#00ec90"/><rect x="516" y="262.9" width="11" height="7.4" fill="#00f0c8"/><rect x="516" y="270" width="11" height="7.4" fill="#00eeff"/><rect x="516" y="277.1" width="11" height="7.4" fill="#00b4ff"/><rect x="516" y="284.2" width="11" height="7.4" fill="#0080ff"/><line x1="516" y1="177.9" x2="527" y2="177.9" stroke="rgba(120,60,40,0.25)" stroke-width="0.4"/><line x1="516" y1="185" x2="527" y2="185" stroke="rgba(120,60,40,0.25)" stroke-width="0.4"/><line x1="516" y1="192.1" x2="527" y2="192.1" stroke="rgba(120,60,40,0.25)" stroke-width="0.4"/><line x1="516" y1="199.2" x2="527" y2="199.2" stroke="rgba(120,60,40,0.25)" stroke-width="0.4"/><line x1="516" y1="206.2" x2="527" y2="206.2" stroke="rgba(120,60,40,0.25)" stroke-width="0.4"/><line x1="516" y1="213.3" x2="527" y2="213.3" stroke="rgba(120,60,40,0.25)" stroke-width="0.4"/><line x1="516" y1="220.4" x2="527" y2="220.4" stroke="rgba(120,60,40,0.25)" stroke-width="0.4"/><line x1="516" y1="227.5" x2="527" y2="227.5" stroke="rgba(120,60,40,0.25)" stroke-width="0.4"/><line x1="516" y1="234.6" x2="527" y2="234.6" stroke="rgba(120,60,40,0.25)" stroke-width="0.4"/><line x1="516" y1="241.7" x2="527" y2="241.7" stroke="rgba(120,60,40,0.25)" stroke-width="0.4"/><line x1="516" y1="248.8" x2="527" y2="248.8" stroke="rgba(120,60,40,0.25)" stroke-width="0.4"/><line x1="516" y1="255.9" x2="527" y2="255.9" stroke="rgba(120,60,40,0.25)" stroke-width="0.4"/><line x1="516" y1="262.9" x2="527" y2="262.9" stroke="rgba(120,60,40,0.25)" stroke-width="0.4"/><line x1="516" y1="270" x2="527" y2="270" stroke="rgba(120,60,40,0.25)" stroke-width="0.4"/><line x1="516" y1="277.1" x2="527" y2="277.1" stroke="rgba(120,60,40,0.25)" stroke-width="0.4"/><line x1="516" y1="284.2" x2="527" y2="284.2" stroke="rgba(120,60,40,0.25)" stroke-width="0.4"/><text x="530" y="179.5" font-size="4.8" fill="#333">20</text><text x="530" y="186.6" font-size="4.8" fill="#333">9</text><text x="530" y="193.7" font-size="4.8" fill="#333">6</text><text x="530" y="200.8" font-size="4.8" fill="#333">4</text><text x="530" y="207.8" font-size="4.8" fill="#333">3</text><text x="530" y="214.9" font-size="4.8" fill="#333">2</text><text x="530" y="222" font-size="4.8" fill="#333">1</text><text x="530" y="229.1" font-size="4.8" fill="#333">0</text><text x="530" y="236.2" font-size="4.8" fill="#333">&#8722;1</text><text x="530" y="243.3" font-size="4.8" fill="#333">&#8722;2</text><text x="530" y="250.4" font-size="4.8" fill="#333">&#8722;3</text><text x="530" y="257.5" font-size="4.8" fill="#333">&#8722;4</text><text x="530" y="264.5" font-size="4.8" fill="#333">&#8722;6</text><text x="530" y="271.6" font-size="4.8" fill="#333">&#8722;9</text><text x="530" y="278.7" font-size="4.8" fill="#333">&#8722;20</text><text x="530" y="285.8" font-size="4.8" fill="#333">&#8722;30</text><text x="517.7" y="167.2" font-size="6.6" fill="#222" textLength="14.5" lengthAdjust="spacingAndGlyphs">nT/m</text><defs><clipPath id="oc0"><rect x="21" y="17" width="204" height="269.8"/></clipPath><clipPath id="oc276"><rect x="297" y="17" width="204" height="269.8"/></clipPath></defs><g clip-path="url(#oc0)"><path d="M33.6,27.4 L49.2,34 L51,31" stroke="#fff" stroke-width="1.2" stroke-dasharray="3 1.7" fill="none"/><ellipse cx="41.6" cy="85" rx="9" ry="8" stroke="#fff" stroke-width="1.2" stroke-dasharray="3 1.7" fill="none"/><ellipse cx="68" cy="99.6" rx="11.9" ry="7.4" stroke="#fff" stroke-width="1.2" stroke-dasharray="3 1.7" fill="none"/><path d="M143.5,98.5C144.5,99 146.4,102.9 147,105C147.6,107.1 147.4,109.3 147,111C146.6,112.7 146.2,114.2 144.5,115C142.8,115.8 139.2,115.5 137,116C134.8,116.5 132.8,117.1 131,118C129.2,118.9 127.6,120.2 126,121.5C124.4,122.8 121.9,124.7 121.6,126C121.3,127.3 122.8,128.7 124,129.5C125.2,130.3 127.4,130.5 129,131C130.6,131.5 132.1,132.8 133.5,132.5C134.9,132.2 136.6,131.1 137.5,129.5C138.4,127.9 138.7,125.1 139,123C139.3,120.9 139.3,119.5 139.5,117C139.7,114.5 139.8,110.5 140,108C140.2,105.5 140.4,103.6 141,102C141.6,100.4 142.5,98 143.5,98.5Z" stroke="#fff" stroke-width="1.2" stroke-dasharray="3 1.7" fill="none"/><ellipse cx="154" cy="121.5" rx="10.6" ry="7.2" stroke="#fff" stroke-width="1.2" stroke-dasharray="3 1.7" fill="none" transform="rotate(10 154 121.5)"/><ellipse cx="171.2" cy="142.2" rx="18" ry="10.4" stroke="#fff" stroke-width="1.2" stroke-dasharray="3 1.7" fill="none" transform="rotate(28 171.2 142.2)"/><ellipse cx="40.8" cy="144" rx="7.9" ry="9.8" stroke="#fff" stroke-width="1.2" stroke-dasharray="3 1.7" fill="none"/><ellipse cx="77" cy="149.7" rx="8.8" ry="9.3" stroke="#fff" stroke-width="1.2" stroke-dasharray="3 1.7" fill="none"/><path d="M35,180 A9.2,8.3 0 1 0 52.6,181" stroke="#fff" stroke-width="1.2" stroke-dasharray="3 1.7" fill="none"/><ellipse cx="165.8" cy="176.7" rx="12.6" ry="8.3" stroke="#fff" stroke-width="1.2" stroke-dasharray="3 1.7" fill="none"/><path d="M198,148 195,160 195.5,170 197.5,181 200.5,193 202.2,204 205,210.5 210,214 218,218.5" stroke="#fff" stroke-width="1.2" stroke-dasharray="3 1.7" fill="none"/><path d="M120,211.8C121.6,211.4 125.1,211.8 126.5,213C127.9,214.2 128.1,216.8 128.5,219C128.9,221.2 129.1,223.8 129,226C128.9,228.2 128.8,230.2 128,232C127.2,233.8 126,235.8 124,236.6C122,237.4 118.2,237.6 116,237C113.8,236.4 111.9,234.8 111,233C110.1,231.2 110.2,228.2 110.5,226C110.8,223.8 111.9,221.8 113,220C114.1,218.2 115.8,216.9 117,215.5C118.2,214.1 118.4,212.2 120,211.8Z" stroke="#fff" stroke-width="1.2" stroke-dasharray="3 1.7" fill="none"/><path d="M147,219C148.1,217.6 150,216.8 152,216.5C154,216.2 157.2,216.6 159,217.5C160.8,218.4 162.2,220.1 163,222C163.8,223.9 163.3,226.8 164,229C164.7,231.2 166.4,232.8 167,235C167.6,237.2 168,239.9 167.5,242C167,244.1 165.6,246.4 164,247.5C162.4,248.6 159.5,249.1 158,248.5C156.5,247.9 155.8,245.9 155,244C154.2,242.1 154.2,239.2 153,237C151.8,234.8 149.2,233 148,231C146.8,229 145.7,227 145.5,225C145.3,223 145.9,220.4 147,219Z" stroke="#fff" stroke-width="1.2" stroke-dasharray="3 1.7" fill="none"/><ellipse cx="213" cy="241" rx="7.9" ry="11.1" stroke="#fff" stroke-width="1.2" stroke-dasharray="3 1.7" fill="none"/><ellipse cx="212.5" cy="280" rx="8.3" ry="9.3" stroke="#fff" stroke-width="1.2" stroke-dasharray="3 1.7" fill="none"/><ellipse cx="162" cy="272.7" rx="6.4" ry="9.6" stroke="#fff" stroke-width="1.2" stroke-dasharray="3 1.7" fill="none"/><path d="M79,264.5C80.5,264 83.1,264.1 84.5,265C85.9,265.9 87.2,268.2 87.5,270C87.8,271.8 87.1,274.3 86.5,276C85.9,277.7 85.1,279.5 84,280C82.9,280.5 81.1,280 80,279C78.9,278 78.2,275.8 77.5,274C76.8,272.2 75.5,269.6 75.7,268C76,266.4 77.5,265 79,264.5Z" stroke="#fff" stroke-width="1.2" stroke-dasharray="3 1.7" fill="none"/></g><text x="38" y="29.7" font-size="11" fill="#1818f4" textLength="12.5" lengthAdjust="spacingAndGlyphs" stroke="#1818f4" stroke-width="0.3">GL</text><text x="34.4" y="89.9" font-size="11" fill="#1818f4" textLength="12" lengthAdjust="spacingAndGlyphs" stroke="#1818f4" stroke-width="0.3">ZF</text><text x="61.9" y="102" font-size="11" fill="#1818f4" textLength="9.9" lengthAdjust="spacingAndGlyphs" stroke="#1818f4" stroke-width="0.3">ST</text><text x="132" y="115.7" font-size="11" fill="#1818f4" textLength="10.9" lengthAdjust="spacingAndGlyphs" stroke="#1818f4" stroke-width="0.3">SL</text><text x="148.5" y="125.7" font-size="11" fill="#1818f4" textLength="12.5" lengthAdjust="spacingAndGlyphs" stroke="#1818f4" stroke-width="0.3">LK</text><text x="167.4" y="144" font-size="11" fill="#1818f4" textLength="12.4" lengthAdjust="spacingAndGlyphs" stroke="#1818f4" stroke-width="0.3">XL</text><text x="34.5" y="143.4" font-size="11" fill="#1818f4" textLength="13.5" lengthAdjust="spacingAndGlyphs" stroke="#1818f4" stroke-width="0.3">LN</text><text x="70.9" y="152.5" font-size="11" fill="#1818f4" textLength="14.8" lengthAdjust="spacingAndGlyphs" stroke="#1818f4" stroke-width="0.3">CD</text><text x="38.5" y="184.3" font-size="11" fill="#1818f4" textLength="10.5" lengthAdjust="spacingAndGlyphs" stroke="#1818f4" stroke-width="0.3">JZ</text><text x="159" y="181.4" font-size="11" fill="#1818f4" textLength="14" lengthAdjust="spacingAndGlyphs" stroke="#1818f4" stroke-width="0.3">LG</text><text x="204.3" y="195.7" font-size="11" fill="#1818f4" textLength="11.2" lengthAdjust="spacingAndGlyphs" stroke="#1818f4" stroke-width="0.3">FS</text><text x="112.3" y="231.2" font-size="11" fill="#1818f4" textLength="11.1" lengthAdjust="spacingAndGlyphs" stroke="#1818f4" stroke-width="0.3">TL</text><text x="155.3" y="243" font-size="11" fill="#1818f4" textLength="13.2" lengthAdjust="spacingAndGlyphs" stroke="#1818f4" stroke-width="0.3">LX</text><text x="208.2" y="239.5" font-size="11" fill="#1818f4" textLength="13.3" lengthAdjust="spacingAndGlyphs" stroke="#1818f4" stroke-width="0.3">XS</text><text x="209" y="281" font-size="11" fill="#1818f4" textLength="12.5" lengthAdjust="spacingAndGlyphs" stroke="#1818f4" stroke-width="0.3">YF</text><text x="156.2" y="278.3" font-size="11" fill="#1818f4" textLength="11.4" lengthAdjust="spacingAndGlyphs" stroke="#1818f4" stroke-width="0.3">BS</text><text x="73.6" y="274.5" font-size="11" fill="#1818f4" textLength="13" lengthAdjust="spacingAndGlyphs" stroke="#1818f4" stroke-width="0.3">BA</text><text x="26.7" y="24.6" font-size="7.6" fill="#1a1a1a" textLength="25.5" lengthAdjust="spacingAndGlyphs" font-style="italic">Guanling</text><text x="83" y="49.4" font-size="7.6" fill="#1a1a1a" textLength="15.8" lengthAdjust="spacingAndGlyphs">Ziyun</text><text x="23" y="96.6" font-size="7.6" fill="#1a1a1a" textLength="26.2" lengthAdjust="spacingAndGlyphs" font-style="italic">Zhenfeng</text><text x="85.6" y="126.4" font-size="7.6" fill="#1a1a1a" textLength="23.2" lengthAdjust="spacingAndGlyphs">Wangmo</text><text x="162.3" y="90.9" font-size="7.6" fill="#1a1a1a" textLength="22.5" lengthAdjust="spacingAndGlyphs">Luodian</text><text x="51.4" y="150.6" font-size="7.6" fill="#1a1a1a" textLength="17.6" lengthAdjust="spacingAndGlyphs" font-style="italic">Ceheng</text><text x="142" y="175.8" font-size="7.6" fill="#1a1a1a" textLength="11.4" lengthAdjust="spacingAndGlyphs">Leye</text><text x="195" y="205" font-size="7.6" fill="#1a1a1a" textLength="27" lengthAdjust="spacingAndGlyphs">Fengshan</text><text x="103" y="238.7" font-size="7.6" fill="#1a1a1a" textLength="18.6" lengthAdjust="spacingAndGlyphs">Tianshe</text><text x="144.3" y="233.8" font-size="7.6" fill="#1a1a1a" textLength="22.3" lengthAdjust="spacingAndGlyphs">Luoyun</text><text x="150" y="289.8" font-size="10" fill="#1a1a1a" textLength="20" lengthAdjust="spacingAndGlyphs">Barse</text><circle cx="27.1" cy="25.3" r="1.15" fill="#000"/><circle cx="82.2" cy="50.5" r="1.15" fill="#000"/><circle cx="32.3" cy="99.2" r="1.15" fill="#000"/><circle cx="84" cy="127.4" r="1.15" fill="#000"/><circle cx="161.7" cy="92" r="1.15" fill="#000"/><circle cx="50.4" cy="151.6" r="1.15" fill="#000"/><circle cx="141" cy="175.5" r="1.15" fill="#000"/><circle cx="199" cy="207" r="1.15" fill="#000"/><circle cx="102" cy="240.5" r="1.15" fill="#000"/><circle cx="142.8" cy="233.8" r="1.15" fill="#000"/><circle cx="148.3" cy="292.2" r="1.5" fill="#000"/><g clip-path="url(#oc276)"><path d="M309.6,27.4 L325.2,34 L327,31" stroke="#fff" stroke-width="1.2" stroke-dasharray="3 1.7" fill="none"/><ellipse cx="317.6" cy="85" rx="9" ry="8" stroke="#fff" stroke-width="1.2" stroke-dasharray="3 1.7" fill="none"/><ellipse cx="344" cy="99.6" rx="11.9" ry="7.4" stroke="#fff" stroke-width="1.2" stroke-dasharray="3 1.7" fill="none"/><path d="M419.5,98.5C420.5,99 422.4,102.9 423,105C423.6,107.1 423.4,109.3 423,111C422.6,112.7 422.2,114.2 420.5,115C418.8,115.8 415.2,115.5 413,116C410.8,116.5 408.8,117.1 407,118C405.2,118.9 403.6,120.2 402,121.5C400.4,122.8 397.9,124.7 397.6,126C397.3,127.3 398.8,128.7 400,129.5C401.2,130.3 403.4,130.5 405,131C406.6,131.5 408.1,132.8 409.5,132.5C410.9,132.2 412.6,131.1 413.5,129.5C414.4,127.9 414.7,125.1 415,123C415.3,120.9 415.3,119.5 415.5,117C415.7,114.5 415.8,110.5 416,108C416.2,105.5 416.4,103.6 417,102C417.6,100.4 418.5,98 419.5,98.5Z" stroke="#fff" stroke-width="1.2" stroke-dasharray="3 1.7" fill="none"/><ellipse cx="430" cy="121.5" rx="10.6" ry="7.2" stroke="#fff" stroke-width="1.2" stroke-dasharray="3 1.7" fill="none" transform="rotate(10 430 121.5)"/><ellipse cx="447.2" cy="142.2" rx="18" ry="10.4" stroke="#fff" stroke-width="1.2" stroke-dasharray="3 1.7" fill="none" transform="rotate(28 447.2 142.2)"/><ellipse cx="316.8" cy="144" rx="7.9" ry="9.8" stroke="#fff" stroke-width="1.2" stroke-dasharray="3 1.7" fill="none"/><ellipse cx="353" cy="149.7" rx="8.8" ry="9.3" stroke="#fff" stroke-width="1.2" stroke-dasharray="3 1.7" fill="none"/><path d="M311,180 A9.2,8.3 0 1 0 328.6,181" stroke="#fff" stroke-width="1.2" stroke-dasharray="3 1.7" fill="none"/><ellipse cx="441.8" cy="176.7" rx="12.6" ry="8.3" stroke="#fff" stroke-width="1.2" stroke-dasharray="3 1.7" fill="none"/><path d="M474,148 471,160 471.5,170 473.5,181 476.5,193 478.2,204 481,210.5 486,214 494,218.5" stroke="#fff" stroke-width="1.2" stroke-dasharray="3 1.7" fill="none"/><path d="M396,211.8C397.6,211.4 401.1,211.8 402.5,213C403.9,214.2 404.1,216.8 404.5,219C404.9,221.2 405.1,223.8 405,226C404.9,228.2 404.8,230.2 404,232C403.2,233.8 402,235.8 400,236.6C398,237.4 394.2,237.6 392,237C389.8,236.4 387.9,234.8 387,233C386.1,231.2 386.2,228.2 386.5,226C386.8,223.8 387.9,221.8 389,220C390.1,218.2 391.8,216.9 393,215.5C394.2,214.1 394.4,212.2 396,211.8Z" stroke="#fff" stroke-width="1.2" stroke-dasharray="3 1.7" fill="none"/><path d="M423,219C424.1,217.6 426,216.8 428,216.5C430,216.2 433.2,216.6 435,217.5C436.8,218.4 438.2,220.1 439,222C439.8,223.9 439.3,226.8 440,229C440.7,231.2 442.4,232.8 443,235C443.6,237.2 444,239.9 443.5,242C443,244.1 441.6,246.4 440,247.5C438.4,248.6 435.5,249.1 434,248.5C432.5,247.9 431.8,245.9 431,244C430.2,242.1 430.2,239.2 429,237C427.8,234.8 425.2,233 424,231C422.8,229 421.7,227 421.5,225C421.3,223 421.9,220.4 423,219Z" stroke="#fff" stroke-width="1.2" stroke-dasharray="3 1.7" fill="none"/><ellipse cx="489" cy="241" rx="7.9" ry="11.1" stroke="#fff" stroke-width="1.2" stroke-dasharray="3 1.7" fill="none"/><ellipse cx="488.5" cy="280" rx="8.3" ry="9.3" stroke="#fff" stroke-width="1.2" stroke-dasharray="3 1.7" fill="none"/><ellipse cx="438" cy="272.7" rx="6.4" ry="9.6" stroke="#fff" stroke-width="1.2" stroke-dasharray="3 1.7" fill="none"/><path d="M355,264.5C356.5,264 359.1,264.1 360.5,265C361.9,265.9 363.2,268.2 363.5,270C363.8,271.8 363.1,274.3 362.5,276C361.9,277.7 361.1,279.5 360,280C358.9,280.5 357.1,280 356,279C354.9,278 354.2,275.8 353.5,274C352.8,272.2 351.4,269.6 351.7,268C351.9,266.4 353.5,265 355,264.5Z" stroke="#fff" stroke-width="1.2" stroke-dasharray="3 1.7" fill="none"/></g><text x="314" y="29.7" font-size="11" fill="#1818f4" textLength="12.5" lengthAdjust="spacingAndGlyphs" stroke="#1818f4" stroke-width="0.3">GL</text><text x="310.4" y="89.9" font-size="11" fill="#1818f4" textLength="12" lengthAdjust="spacingAndGlyphs" stroke="#1818f4" stroke-width="0.3">ZF</text><text x="337.9" y="102" font-size="11" fill="#1818f4" textLength="9.9" lengthAdjust="spacingAndGlyphs" stroke="#1818f4" stroke-width="0.3">ST</text><text x="408" y="115.7" font-size="11" fill="#1818f4" textLength="10.9" lengthAdjust="spacingAndGlyphs" stroke="#1818f4" stroke-width="0.3">SL</text><text x="424.5" y="125.7" font-size="11" fill="#1818f4" textLength="12.5" lengthAdjust="spacingAndGlyphs" stroke="#1818f4" stroke-width="0.3">LK</text><text x="443.4" y="144" font-size="11" fill="#1818f4" textLength="12.4" lengthAdjust="spacingAndGlyphs" stroke="#1818f4" stroke-width="0.3">XL</text><text x="310.5" y="143.4" font-size="11" fill="#1818f4" textLength="13.5" lengthAdjust="spacingAndGlyphs" stroke="#1818f4" stroke-width="0.3">LN</text><text x="346.9" y="152.5" font-size="11" fill="#1818f4" textLength="14.8" lengthAdjust="spacingAndGlyphs" stroke="#1818f4" stroke-width="0.3">CD</text><text x="314.5" y="184.3" font-size="11" fill="#1818f4" textLength="10.5" lengthAdjust="spacingAndGlyphs" stroke="#1818f4" stroke-width="0.3">JZ</text><text x="435" y="181.4" font-size="11" fill="#1818f4" textLength="14" lengthAdjust="spacingAndGlyphs" stroke="#1818f4" stroke-width="0.3">LG</text><text x="480.3" y="195.7" font-size="11" fill="#1818f4" textLength="11.2" lengthAdjust="spacingAndGlyphs" stroke="#1818f4" stroke-width="0.3">FS</text><text x="388.3" y="231.2" font-size="11" fill="#1818f4" textLength="11.1" lengthAdjust="spacingAndGlyphs" stroke="#1818f4" stroke-width="0.3">TL</text><text x="431.3" y="243" font-size="11" fill="#1818f4" textLength="13.2" lengthAdjust="spacingAndGlyphs" stroke="#1818f4" stroke-width="0.3">LX</text><text x="484.2" y="239.5" font-size="11" fill="#1818f4" textLength="13.3" lengthAdjust="spacingAndGlyphs" stroke="#1818f4" stroke-width="0.3">XS</text><text x="485" y="281" font-size="11" fill="#1818f4" textLength="12.5" lengthAdjust="spacingAndGlyphs" stroke="#1818f4" stroke-width="0.3">YF</text><text x="432.2" y="278.3" font-size="11" fill="#1818f4" textLength="11.4" lengthAdjust="spacingAndGlyphs" stroke="#1818f4" stroke-width="0.3">BS</text><text x="349.6" y="274.5" font-size="11" fill="#1818f4" textLength="13" lengthAdjust="spacingAndGlyphs" stroke="#1818f4" stroke-width="0.3">BA</text><text x="302.7" y="24.6" font-size="7.6" fill="#1a1a1a" textLength="25.5" lengthAdjust="spacingAndGlyphs" font-style="italic">Guanling</text><text x="359" y="49.4" font-size="7.6" fill="#1a1a1a" textLength="15.8" lengthAdjust="spacingAndGlyphs">Ziyun</text><text x="299" y="96.6" font-size="7.6" fill="#1a1a1a" textLength="26.2" lengthAdjust="spacingAndGlyphs" font-style="italic">Zhenfeng</text><text x="361.6" y="126.4" font-size="7.6" fill="#1a1a1a" textLength="23.2" lengthAdjust="spacingAndGlyphs">Wangmo</text><text x="438.3" y="90.9" font-size="7.6" fill="#1a1a1a" textLength="22.5" lengthAdjust="spacingAndGlyphs">Luodian</text><text x="327.4" y="150.6" font-size="7.6" fill="#1a1a1a" textLength="17.6" lengthAdjust="spacingAndGlyphs" font-style="italic">Ceheng</text><text x="418" y="175.8" font-size="7.6" fill="#1a1a1a" textLength="11.4" lengthAdjust="spacingAndGlyphs">Leye</text><text x="471" y="205" font-size="7.6" fill="#1a1a1a" textLength="27" lengthAdjust="spacingAndGlyphs">Fengshan</text><text x="379" y="238.7" font-size="7.6" fill="#1a1a1a" textLength="18.6" lengthAdjust="spacingAndGlyphs">Tianshe</text><text x="420.3" y="233.8" font-size="7.6" fill="#1a1a1a" textLength="22.3" lengthAdjust="spacingAndGlyphs">Luoyun</text><text x="426" y="289.8" font-size="10" fill="#1a1a1a" textLength="20" lengthAdjust="spacingAndGlyphs">Barse</text><circle cx="303.1" cy="25.3" r="1.15" fill="#000"/><circle cx="358.2" cy="50.5" r="1.15" fill="#000"/><circle cx="308.3" cy="99.2" r="1.15" fill="#000"/><circle cx="360" cy="127.4" r="1.15" fill="#000"/><circle cx="437.7" cy="92" r="1.15" fill="#000"/><circle cx="326.4" cy="151.6" r="1.15" fill="#000"/><circle cx="417" cy="175.5" r="1.15" fill="#000"/><circle cx="475" cy="207" r="1.15" fill="#000"/><circle cx="378" cy="240.5" r="1.15" fill="#000"/><circle cx="418.8" cy="233.8" r="1.15" fill="#000"/><circle cx="424.3" cy="292.2" r="1.5" fill="#000"/>
</svg>
</body></html>
